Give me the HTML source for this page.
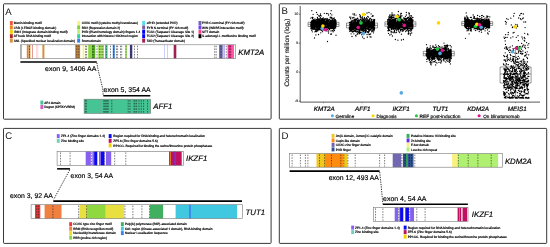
<!DOCTYPE html>
<html><head><meta charset="utf-8"><title>Figure</title>
<style>
html,body{margin:0;padding:0;background:#fff;}
body{width:550px;height:247px;overflow:hidden;}
svg{display:block;text-rendering:geometricPrecision;font-family:"Liberation Sans",Arial,Helvetica,sans-serif;}
.lg{font-size:3.2px;fill:#000;stroke:#000;stroke-width:0.17px;filter:url(#sf);}
.ex{font-size:6.8px;fill:#000;stroke:#000;stroke-width:0.15px;}
.gn{font-size:7.8px;font-style:italic;fill:#000;stroke:#000;stroke-width:0.16px;}
.pl{font-size:9.6px;fill:#111;}
.ax{font-size:6.3px;font-style:italic;fill:#000;stroke:#000;stroke-width:0.2px;}
.tk{font-size:3.7px;fill:#111;stroke:#111;stroke-width:0.1px;}
.lb{font-size:4.6px;fill:#000;stroke:#000;stroke-width:0.16px;}
.d{stroke:#111;stroke-width:0.55;stroke-dasharray:1.5 1.25;fill:none;}
.bar{fill:#fff;stroke:#777;stroke-width:0.6;}
.bl{stroke:#000;stroke-width:1.55;}
.cn{stroke:#000;stroke-width:0.8;stroke-dasharray:1.3 1.1;fill:none;}
.pn{fill:#fff;stroke:#383838;stroke-width:1;}
</style></head><body>
<svg width="550" height="247" viewBox="0 0 550 247">
<defs><filter id="sf" x="-5%" y="-50%" width="110%" height="200%"><feGaussianBlur stdDeviation="0.3"/></filter></defs>
<rect x="0" y="0" width="550" height="247" fill="#fff"/>

<rect class="pn" x="3.5" y="3.8" width="267.6" height="115.4" rx="0.7"/>
<text class="pl" x="5.2" y="14.6">A</text>
<rect x="9.9" y="21.0" width="2.9" height="4.0" fill="#f05a3c"/>
<text class="lg" x="13.8" y="24.1" textLength="27.9" lengthAdjust="spacingAndGlyphs">Menin-binding motif</text>
<rect x="9.9" y="25.4" width="2.9" height="4.0" fill="#f08020"/>
<text class="lg" x="13.8" y="28.5" textLength="42.4" lengthAdjust="spacingAndGlyphs">LBD (LEDGF-binding domain)</text>
<rect x="9.9" y="29.8" width="2.9" height="4.0" fill="#f5d000"/>
<text class="lg" x="13.8" y="33.0" textLength="53.8" lengthAdjust="spacingAndGlyphs">IBM1 (Integrase domain-binding motif)</text>
<rect x="9.9" y="34.2" width="2.9" height="4.0" fill="#b02a20"/>
<text class="lg" x="13.8" y="37.4" textLength="37.2" lengthAdjust="spacingAndGlyphs">AT hook DNA binding motif</text>
<rect x="9.9" y="38.6" width="2.9" height="4.0" fill="#d89040"/>
<text class="lg" x="13.8" y="41.8" textLength="61.2" lengthAdjust="spacingAndGlyphs">SNL (Speckled nuclear localization domain)</text>
<rect x="77.2" y="21.0" width="2.9" height="4.0" fill="#f8f080"/>
<text class="lg" x="81.7" y="24.1" textLength="56.3" lengthAdjust="spacingAndGlyphs">CXXC motif (cysteine methyl transferase)</text>
<rect x="77.2" y="25.4" width="2.9" height="4.0" fill="#80d030"/>
<text class="lg" x="81.7" y="28.5" textLength="38.3" lengthAdjust="spacingAndGlyphs">RD2 (Repression domain 2)</text>
<rect x="77.2" y="29.8" width="2.9" height="4.0" fill="#b8f070"/>
<text class="lg" x="81.7" y="33.0" textLength="58.7" lengthAdjust="spacingAndGlyphs">PHD (Plant homology domain) fingers 1-4</text>
<rect x="77.2" y="34.2" width="2.9" height="4.0" fill="#30d0a0"/>
<text class="lg" x="81.7" y="37.4" textLength="56.3" lengthAdjust="spacingAndGlyphs">Interaction with histone H3K4me3 region</text>
<rect x="77.2" y="38.6" width="2.9" height="4.0" fill="#3080f0"/>
<text class="lg" x="81.7" y="41.8" textLength="19.2" lengthAdjust="spacingAndGlyphs">Bromodomain</text>
<rect x="142.2" y="21.0" width="2.9" height="4.0" fill="#50e0f0"/>
<text class="lg" x="146.7" y="24.1" textLength="30.8" lengthAdjust="spacingAndGlyphs">ePHD (extended PHD)</text>
<rect x="142.2" y="25.4" width="2.9" height="4.0" fill="#7060a8"/>
<text class="lg" x="146.7" y="28.5" textLength="41.7" lengthAdjust="spacingAndGlyphs">FYR N-terminal (FY rich motif)</text>
<rect x="142.2" y="29.8" width="2.9" height="4.0" fill="#0000ff"/>
<text class="lg" x="146.7" y="33.0" textLength="47.3" lengthAdjust="spacingAndGlyphs">TCS1 (Taspase1 Cleavage Site 1)</text>
<rect x="142.2" y="34.2" width="2.9" height="4.0" fill="#0000ff"/>
<text class="lg" x="146.7" y="37.4" textLength="47.3" lengthAdjust="spacingAndGlyphs">TCS2 (Taspase1 Cleavage Site 2)</text>
<rect x="142.2" y="38.6" width="2.9" height="4.0" fill="#a02050"/>
<text class="lg" x="146.7" y="41.8" textLength="38.3" lengthAdjust="spacingAndGlyphs">TAD (Transactivator domain)</text>
<rect x="198.5" y="21.0" width="2.9" height="4.0" fill="#7068b0"/>
<text class="lg" x="202.1" y="24.1" textLength="42.4" lengthAdjust="spacingAndGlyphs">FYR C-terminal (FY rich motif)</text>
<rect x="198.5" y="25.4" width="2.9" height="4.0" fill="#7040ff"/>
<text class="lg" x="202.1" y="28.5" textLength="41.5" lengthAdjust="spacingAndGlyphs">WIN (WDR5 interaction motif)</text>
<rect x="198.5" y="29.8" width="2.9" height="4.0" fill="#ff4090"/>
<text class="lg" x="202.1" y="33.0" textLength="17.2" lengthAdjust="spacingAndGlyphs">SET domain</text>
<rect x="198.5" y="34.2" width="2.9" height="4.0" fill="#000"/>
<text class="lg" x="202.1" y="37.4" textLength="53.6" lengthAdjust="spacingAndGlyphs">S-adenosyl-L-methionine binding motif</text>
<rect x="20.4" y="44.8" width="215.3" height="13.7" fill="#fff"/>
<rect x="21.1" y="44.8" width="0.6" height="13.7" fill="#f05a3c"/>
<rect x="26.8" y="44.8" width="1.7" height="13.7" fill="#f08020"/>
<rect x="28.5" y="44.8" width="1.9" height="13.7" fill="#d89040"/>
<rect x="32.0" y="44.8" width="0.5" height="13.7" fill="#c0392b"/>
<rect x="36.3" y="44.8" width="0.4" height="13.7" fill="#f0a0a0"/>
<rect x="37.7" y="44.8" width="0.4" height="13.7" fill="#f0a0a0"/>
<rect x="42.4" y="44.8" width="2.0" height="13.7" fill="#d89040"/>
<rect x="75.2" y="44.8" width="4.9" height="13.7" fill="#c08840"/>
<rect x="82.6" y="44.8" width="1.7" height="13.7" fill="#f8f080"/>
<rect x="88.2" y="44.8" width="3.6" height="13.7" fill="#8cd840"/>
<rect x="91.8" y="44.8" width="3.5" height="13.7" fill="#60b830"/>
<rect x="97.9" y="44.8" width="6.1" height="13.7" fill="#b0ec70"/>
<rect x="105.0" y="44.8" width="2.6" height="13.7" fill="#50d0a0"/>
<rect x="112.8" y="44.8" width="1.9" height="13.7" fill="#3080f0"/>
<rect x="125.1" y="44.8" width="1.9" height="13.7" fill="#b0ec70"/>
<rect x="129.9" y="44.8" width="2.4" height="13.7" fill="#40408a"/>
<rect x="164.6" y="44.8" width="0.4" height="13.7" fill="#8a8aff"/>
<rect x="167.4" y="44.8" width="0.4" height="13.7" fill="#8a8aff"/>
<rect x="173.7" y="44.8" width="2.6" height="13.7" fill="#a02050"/>
<rect x="219.1" y="44.8" width="3.6" height="13.7" fill="#6a68a8"/>
<rect x="223.3" y="44.8" width="1.6" height="13.7" fill="#b8a8f0"/>
<rect x="227.6" y="44.8" width="3.4" height="13.7" fill="#f03890"/>
<rect x="231.0" y="44.8" width="3.0" height="13.7" fill="#ff58a8"/>
<path class="d" d="M29.4 45.7V57.9M76.8 45.7V57.9M78.8 45.7V57.9M85.6 45.7V57.9M86.6 45.7V57.9M92.6 45.7V57.9M93.8 45.7V57.9M97.0 45.7V57.9M99.5 45.7V57.9M101.0 45.7V57.9M102.8 45.7V57.9M106.3 45.7V57.9M110.5 45.7V57.9M113.8 45.7V57.9M116.5 45.7V57.9M117.6 45.7V57.9M120.5 45.7V57.9M121.7 45.7V57.9M126.0 45.7V57.9M131.0 45.7V57.9M134.5 45.7V57.9M137.5 45.7V57.9M214.7 45.7V57.9M216.2 45.7V57.9M221.0 45.7V57.9M226.3 45.7V57.9M229.3 45.7V57.9M230.8 45.7V57.9"/>
<rect x="20.4" y="44.8" width="215.3" height="13.7" fill="none" stroke="#777" stroke-width="0.6"/>
<text class="gn" x="238.2" y="54.5">KMT2A</text>
<line class="bl" x1="20.4" y1="62.0" x2="96.8" y2="62.0"/>
<text class="ex" x="45.0" y="71.2" textLength="51.4" lengthAdjust="spacingAndGlyphs">exon 9, 1406 AA</text>
<path class="cn" d="M96.9 62.8L97.9 69L102.7 88.5L103.2 95.2"/>
<text class="ex" x="103.6" y="92.4" textLength="47.1" lengthAdjust="spacingAndGlyphs">exon 5, 354 AA</text>
<line class="bl" x1="103.3" y1="95.8" x2="150.3" y2="95.8"/>
<rect x="84.1" y="99.2" width="66.5" height="14.2" fill="#45c494"/>
<rect x="99.8" y="99.2" width="0.5" height="14.2" fill="#a090b0"/>
<path class="d" d="M85.3 100.1V112.8M86.3 100.1V112.8M103.8 100.1V112.8M104.9 100.1V112.8M106.0 100.1V112.8M107.1 100.1V112.8M108.2 100.1V112.8M111.8 100.1V112.8M128.2 100.1V112.8M130.0 100.1V112.8M134.0 100.1V112.8M135.0 100.1V112.8M136.6 100.1V112.8M139.0 100.1V112.8M141.3 100.1V112.8M143.6 100.1V112.8M147.6 100.1V112.8"/>
<rect x="84.1" y="99.2" width="66.5" height="14.2" fill="none" stroke="#777" stroke-width="0.6"/>
<text class="gn" x="153.2" y="109.2">AFF1</text>
<rect x="40.4" y="100.6" width="2.9" height="4.0" fill="#45c494"/>
<text class="lg" x="44.3" y="103.8" textLength="16.2" lengthAdjust="spacingAndGlyphs">AF4 domain</text>
<rect x="40.4" y="105.0" width="2.9" height="4.0" fill="#d060c0"/>
<text class="lg" x="44.3" y="108.2" textLength="30.8" lengthAdjust="spacingAndGlyphs">Degron (KPTAYVRPM)</text>
<rect class="pn" x="279.3" y="3.8" width="267.40000000000003" height="115.4" rx="0.7"/>
<text class="pl" x="281.6" y="14.3">B</text>
<path d="M300.2 6V102.1H540" fill="none" stroke="#222" stroke-width="0.75"/>
<line x1="299" y1="14.2" x2="300.2" y2="14.2" stroke="#222" stroke-width="0.6"/>
<text class="tk" x="298.3" y="15.4" text-anchor="end">10</text>
<line x1="299" y1="43.2" x2="300.2" y2="43.2" stroke="#222" stroke-width="0.6"/>
<text class="tk" x="298.3" y="44.4" text-anchor="end">5</text>
<line x1="299" y1="72.2" x2="300.2" y2="72.2" stroke="#222" stroke-width="0.6"/>
<text class="tk" x="298.3" y="73.4" text-anchor="end">0</text>
<line x1="299" y1="101.2" x2="300.2" y2="101.2" stroke="#222" stroke-width="0.6"/>
<text class="tk" x="298.3" y="102.4" text-anchor="end">-5</text>
<text transform="translate(288.9,52.6) rotate(-90)" text-anchor="middle" style="font-size:6.4px;fill:#000;stroke:#000;stroke-width:0.12px">Counts per million (log<tspan style="font-size:4px" dy="1">2</tspan><tspan dy="-1">)</tspan></text>
<path d="M308.0 22.3H339.0V26.5H308.0ZM308.0 24.3H339.0M323.5 22.3V17.5M323.5 26.5V31" fill="none" stroke="#333" stroke-width="0.5"/>
<path d="M346.5 23H377.5V27.9H346.5ZM346.5 25.4H377.5M362.0 23V16.5M362.0 27.9V33.5" fill="none" stroke="#333" stroke-width="0.5"/>
<path d="M384.9 21.8H415.9V26.3H384.9ZM384.9 24H415.9M400.4 21.8V15.5M400.4 26.3V32.5" fill="none" stroke="#333" stroke-width="0.5"/>
<path d="M423.3 51.3H454.3V55.8H423.3ZM423.3 53.6H454.3M438.8 51.3V46M438.8 55.8V60.5" fill="none" stroke="#333" stroke-width="0.5"/>
<path d="M461.7 21.6H492.7V25.5H461.7ZM461.7 23.6H492.7M477.2 21.6V17M477.2 25.5V30" fill="none" stroke="#333" stroke-width="0.5"/>
<path d="M500.1 67H531.1V83H500.1ZM500.1 74H531.1M515.6 67V50M515.6 83V98" fill="none" stroke="#333" stroke-width="0.5"/>
<path d="M312.7 21.6h.01M330.6 20.6h.01M321.9 24.9h.01M329.2 23.5h.01M335.6 24.0h.01M324.5 24.3h.01M323.5 20.0h.01M312.6 26.6h.01M317.6 25.0h.01M323.5 24.1h.01M328.1 25.0h.01M331.2 27.0h.01M320.5 24.5h.01M312.5 21.8h.01M318.1 27.7h.01M333.9 23.0h.01M316.2 22.2h.01M322.3 19.8h.01M334.5 24.3h.01M311.4 21.3h.01M326.1 22.8h.01M334.9 25.6h.01M316.6 24.4h.01M324.7 27.2h.01M333.9 25.2h.01M314.2 23.1h.01M324.1 23.3h.01M329.9 22.8h.01M327.8 26.2h.01M322.7 24.4h.01M316.0 23.1h.01M323.3 26.8h.01M320.3 24.6h.01M322.9 22.9h.01M320.1 19.9h.01M332.1 25.6h.01M330.3 25.0h.01M318.8 24.4h.01M325.3 23.0h.01M317.8 21.9h.01M322.3 23.6h.01M319.8 25.0h.01M327.5 23.9h.01M320.2 23.9h.01M322.5 22.9h.01M329.1 25.3h.01M321.3 25.0h.01M333.8 22.1h.01M315.4 26.5h.01M329.6 26.6h.01M321.5 26.7h.01M321.6 23.9h.01M326.9 23.7h.01M324.1 20.9h.01M321.3 26.5h.01M310.8 18.1h.01M313.1 23.2h.01M328.8 23.3h.01M324.1 26.8h.01M328.5 24.3h.01M335.1 21.5h.01M328.1 20.2h.01M312.1 22.2h.01M318.6 24.6h.01M325.9 24.5h.01M316.8 23.7h.01M335.3 22.3h.01M334.8 23.7h.01M332.3 27.2h.01M322.8 21.1h.01M332.2 24.4h.01M314.1 29.0h.01M318.6 25.9h.01M322.6 23.0h.01M329.6 26.2h.01M323.1 22.1h.01M314.3 24.3h.01M319.5 28.8h.01M319.0 29.8h.01M318.4 19.3h.01M315.0 26.3h.01M321.3 30.0h.01M322.2 22.7h.01M330.5 25.1h.01M331.0 28.7h.01M324.1 22.9h.01M322.5 25.6h.01M330.6 24.1h.01M333.3 18.7h.01M327.9 25.3h.01M331.1 23.8h.01M334.7 27.0h.01M311.8 30.4h.01M333.0 26.3h.01M317.8 23.2h.01M322.9 25.6h.01M331.0 24.9h.01M329.0 27.3h.01M314.5 20.1h.01M327.5 20.9h.01M312.6 18.4h.01M319.9 26.1h.01M331.4 24.2h.01M321.7 22.4h.01M326.0 22.2h.01M329.3 22.6h.01M331.7 21.6h.01M330.1 23.4h.01M311.0 22.9h.01M321.5 28.3h.01M322.6 25.2h.01M312.2 21.9h.01M324.6 22.6h.01M326.2 27.8h.01M331.8 25.6h.01M334.7 25.2h.01M314.1 26.4h.01M316.7 28.9h.01M327.5 20.8h.01M314.2 22.1h.01M316.5 19.3h.01M325.4 25.7h.01M315.1 23.2h.01M330.7 22.4h.01M332.6 22.1h.01M311.7 26.3h.01M324.3 23.9h.01M331.0 22.8h.01M335.6 27.9h.01M317.8 21.3h.01M315.1 20.6h.01M333.1 31.8h.01M333.9 23.2h.01M315.8 22.7h.01M322.0 22.2h.01M329.1 23.9h.01M332.3 26.6h.01M315.1 26.5h.01M327.7 25.9h.01M331.3 23.5h.01M324.8 20.0h.01M315.0 25.1h.01M311.7 28.7h.01M318.0 27.4h.01M331.3 23.8h.01M311.9 26.6h.01M311.0 23.2h.01M320.0 24.1h.01M312.4 20.7h.01M314.6 23.4h.01M311.4 24.7h.01M324.1 23.8h.01M328.5 26.5h.01M321.6 29.8h.01M314.2 28.1h.01M319.2 23.4h.01M325.8 22.2h.01M334.7 22.4h.01M336.0 21.5h.01M316.9 24.4h.01M311.1 25.5h.01M331.9 24.8h.01M334.3 24.9h.01M322.4 24.8h.01M330.4 23.9h.01M332.8 22.1h.01M326.3 29.3h.01M333.0 27.3h.01M311.4 21.7h.01M317.7 21.7h.01M317.8 22.6h.01M313.9 24.4h.01M333.9 28.0h.01M311.6 27.2h.01M327.9 27.4h.01M312.6 27.5h.01M320.0 27.5h.01M321.4 26.4h.01M315.4 25.6h.01M324.0 24.0h.01M324.4 19.2h.01M318.9 23.9h.01M329.5 29.5h.01M314.9 22.7h.01M315.7 22.5h.01M319.8 27.3h.01M320.4 24.5h.01M316.0 22.9h.01M334.1 28.8h.01M331.8 26.1h.01M313.5 26.5h.01M320.2 22.7h.01M316.7 25.7h.01M322.3 25.4h.01M317.8 26.6h.01M323.5 27.6h.01M334.2 27.6h.01M320.5 24.8h.01M327.3 26.3h.01M325.9 21.0h.01M329.9 26.2h.01M312.4 26.3h.01M329.7 23.2h.01M334.8 22.1h.01M326.1 24.1h.01M318.1 20.8h.01M327.9 25.3h.01M328.9 25.2h.01M327.5 21.5h.01M314.5 24.4h.01M335.5 27.4h.01M335.1 27.4h.01M321.6 27.2h.01M325.9 23.9h.01M311.8 23.3h.01M335.9 23.2h.01M331.6 26.0h.01M327.0 31.1h.01M330.1 28.4h.01M315.6 28.9h.01M318.6 28.2h.01M317.1 19.6h.01M325.9 23.7h.01M313.1 23.0h.01M333.5 27.9h.01M322.5 29.2h.01M322.1 22.4h.01M313.5 24.4h.01M328.2 25.9h.01M331.5 22.9h.01M326.8 22.5h.01M316.9 22.3h.01M330.7 26.9h.01M314.5 21.7h.01M331.8 27.6h.01M325.5 24.6h.01M318.2 26.5h.01M323.8 28.8h.01M326.8 22.4h.01M317.4 21.9h.01M332.3 25.5h.01M321.5 21.3h.01M333.5 22.2h.01M332.0 24.0h.01M313.3 24.8h.01M327.2 20.7h.01M318.7 23.2h.01M330.0 26.0h.01M324.6 28.2h.01M322.4 18.6h.01M333.5 28.1h.01M312.3 26.9h.01M325.0 21.2h.01M319.1 20.0h.01M311.7 25.5h.01M329.9 23.1h.01M325.1 24.7h.01M333.5 26.8h.01M326.0 23.2h.01M319.4 24.8h.01M335.8 25.7h.01M313.7 26.9h.01M312.1 29.4h.01M329.4 29.2h.01M320.2 25.0h.01M320.0 23.6h.01M333.1 31.2h.01M319.1 26.1h.01M333.4 25.5h.01M327.2 21.1h.01M319.2 26.5h.01M312.3 22.1h.01M317.0 23.0h.01M335.4 20.4h.01M321.1 22.8h.01M314.9 24.5h.01M318.4 20.0h.01M333.6 21.7h.01M315.0 24.1h.01M330.6 20.7h.01M314.2 20.7h.01M335.2 21.9h.01M324.3 20.2h.01M311.9 26.1h.01M334.4 21.4h.01M319.9 26.5h.01M329.4 27.0h.01M324.1 20.8h.01M313.2 24.4h.01M313.5 22.9h.01M314.6 21.0h.01M314.9 23.3h.01M312.1 23.6h.01M312.0 26.4h.01M334.9 27.3h.01M313.1 21.1h.01M323.7 23.1h.01M313.8 25.8h.01M316.3 27.7h.01M330.2 17.2h.01M334.6 28.0h.01M322.7 23.8h.01M310.9 28.7h.01M336.2 23.1h.01M312.0 21.9h.01M320.7 24.4h.01M324.5 27.7h.01M333.5 24.4h.01M331.7 17.5h.01M326.3 26.3h.01M320.9 19.6h.01M332.0 21.5h.01M332.9 20.9h.01M332.9 19.0h.01M329.0 20.7h.01M313.3 21.4h.01M318.4 22.5h.01M323.1 24.1h.01M323.6 23.3h.01M332.0 20.0h.01M316.8 23.8h.01M327.7 27.1h.01M320.3 27.0h.01M330.5 24.7h.01M315.8 26.1h.01M322.9 26.9h.01M313.4 28.2h.01M316.2 29.2h.01M334.6 23.4h.01M318.8 23.5h.01M333.5 28.6h.01M324.1 28.8h.01M311.8 28.8h.01M330.9 17.5h.01M312.1 23.7h.01M331.8 14.9h.01M311.0 26.4h.01M327.9 24.5h.01M315.0 24.5h.01M319.5 23.9h.01M335.0 28.1h.01M323.2 23.4h.01M327.5 27.3h.01M329.6 25.9h.01M313.6 25.3h.01M332.1 25.6h.01M334.0 24.6h.01M314.7 21.1h.01M324.7 26.4h.01M318.0 26.4h.01M329.6 23.9h.01M311.5 26.4h.01M323.8 26.9h.01M330.9 20.6h.01M329.5 23.9h.01M313.5 23.0h.01M332.0 21.7h.01M316.8 25.2h.01M331.3 21.9h.01M323.4 23.0h.01M314.9 25.0h.01M329.4 25.3h.01M331.3 25.2h.01M328.6 30.8h.01M335.3 22.8h.01M317.3 25.0h.01M316.8 20.8h.01M314.5 25.7h.01M324.5 27.6h.01M320.9 27.8h.01M319.9 22.5h.01M322.5 23.5h.01M317.8 28.0h.01M310.9 24.0h.01M322.8 27.1h.01M317.8 21.5h.01M322.2 28.3h.01M334.4 27.3h.01M315.3 25.6h.01M327.0 22.0h.01M327.2 23.8h.01M317.9 24.7h.01M322.8 25.1h.01M335.4 24.0h.01M319.5 23.7h.01M328.9 24.9h.01M332.1 28.3h.01M320.0 18.5h.01M335.9 20.3h.01M326.7 19.8h.01M323.5 22.3h.01M329.0 19.3h.01M321.6 25.9h.01M328.9 24.6h.01M317.8 23.6h.01M334.4 22.3h.01M324.6 24.8h.01M316.9 24.8h.01M321.9 25.3h.01M333.5 22.2h.01M331.3 26.2h.01M323.1 20.0h.01M319.7 27.9h.01M320.4 15.4h.01M335.7 22.6h.01M313.7 20.8h.01M333.4 26.6h.01M332.6 20.0h.01M316.5 29.6h.01M319.7 19.8h.01M325.3 30.2h.01M331.2 25.6h.01M334.9 24.4h.01M336.0 25.6h.01M317.9 30.7h.01M315.7 26.9h.01M323.2 17.8h.01M325.0 27.8h.01M327.5 25.0h.01M313.5 19.6h.01M327.2 26.5h.01M334.2 20.8h.01M334.0 24.8h.01M334.8 25.0h.01M334.2 22.4h.01M335.2 26.2h.01M312.0 21.3h.01M334.1 24.9h.01M317.7 22.7h.01M318.9 23.8h.01M322.4 29.9h.01M335.1 24.6h.01M326.2 21.1h.01M319.8 24.0h.01M320.3 22.1h.01M333.8 24.4h.01M331.7 24.8h.01M314.3 24.5h.01M317.1 24.5h.01M320.2 22.7h.01M316.3 25.6h.01M325.1 27.4h.01M316.5 22.5h.01M325.4 24.1h.01M334.6 24.5h.01M332.4 27.9h.01M313.3 27.4h.01M316.1 22.2h.01M321.3 24.5h.01M327.2 20.0h.01M320.6 21.5h.01M317.2 24.3h.01M319.6 26.1h.01M316.0 27.1h.01M332.7 23.4h.01M328.5 20.4h.01M321.2 25.5h.01M328.6 23.8h.01M324.0 25.5h.01M324.2 24.8h.01M320.1 26.4h.01M323.2 26.2h.01M335.8 26.7h.01M330.7 23.0h.01M331.8 27.2h.01M314.0 22.8h.01M323.6 24.5h.01M320.1 29.7h.01M313.1 25.3h.01M320.8 20.9h.01M312.7 28.6h.01M316.7 27.2h.01M331.1 27.6h.01M328.2 24.9h.01M328.5 25.3h.01M312.8 23.6h.01M315.0 22.3h.01M311.3 28.7h.01M313.3 23.2h.01M313.4 22.9h.01M335.2 23.0h.01M333.5 29.7h.01M316.0 26.8h.01M317.2 23.2h.01M335.2 24.2h.01M325.3 25.8h.01M320.2 26.8h.01M322.7 19.6h.01M317.7 26.9h.01M325.6 23.7h.01M329.2 22.3h.01M323.9 23.2h.01M331.6 26.6h.01M313.7 29.4h.01M326.1 24.7h.01M335.9 25.9h.01M314.6 21.9h.01M323.4 25.7h.01M326.8 26.7h.01M319.4 20.0h.01M335.3 22.8h.01M323.1 26.6h.01M323.0 19.2h.01M333.7 23.2h.01M311.2 26.0h.01M332.9 19.4h.01M314.1 23.1h.01M320.4 24.5h.01M323.2 26.9h.01M322.9 20.6h.01M311.8 27.5h.01M318.9 25.2h.01M319.9 27.8h.01M335.1 27.7h.01M334.1 25.3h.01M325.6 25.7h.01M334.5 19.3h.01M332.7 20.4h.01M320.3 21.4h.01M313.8 23.3h.01M326.2 27.0h.01M319.0 19.1h.01M311.0 23.4h.01M335.7 20.5h.01M335.4 19.8h.01M324.4 28.6h.01M326.5 24.6h.01M327.8 29.0h.01M334.3 27.7h.01M322.7 21.6h.01M325.6 18.9h.01M316.6 30.3h.01M317.0 23.1h.01M324.1 21.0h.01M316.6 26.3h.01M311.6 24.7h.01M320.2 22.4h.01M329.8 23.3h.01M317.8 24.8h.01M332.7 24.5h.01M328.6 26.5h.01M327.4 23.3h.01M333.5 23.3h.01M312.7 26.0h.01M315.3 25.2h.01M333.9 27.5h.01M333.8 23.6h.01M312.8 24.0h.01M330.5 20.9h.01M311.2 28.6h.01M314.2 20.3h.01M313.6 24.9h.01M318.3 21.7h.01M320.7 25.3h.01M333.9 26.5h.01M321.9 19.5h.01M313.9 23.7h.01M317.7 19.2h.01M311.0 28.4h.01M311.5 23.0h.01M321.7 19.7h.01M323.8 22.3h.01M317.1 28.1h.01M320.4 28.6h.01M313.4 28.0h.01M327.5 22.0h.01M320.8 23.9h.01M314.9 29.0h.01M323.4 22.2h.01M316.1 23.3h.01M318.2 21.5h.01M314.0 20.9h.01M330.6 27.8h.01M317.9 26.1h.01M335.1 25.6h.01M321.1 26.0h.01M314.7 27.3h.01M328.7 28.7h.01M329.4 24.3h.01M333.2 23.3h.01M314.1 21.3h.01M330.9 27.4h.01M332.6 22.8h.01M318.5 20.0h.01M322.3 23.5h.01M326.5 24.4h.01M317.0 26.7h.01M332.9 27.2h.01M328.6 22.2h.01M332.6 22.0h.01M322.2 23.3h.01M324.0 20.8h.01M315.7 24.0h.01M318.8 25.6h.01M329.3 24.4h.01M335.2 19.6h.01M314.7 20.8h.01M312.1 28.0h.01M312.5 21.4h.01M321.9 26.4h.01M330.9 26.1h.01M316.5 23.4h.01M322.9 21.4h.01M323.9 24.9h.01M332.1 21.7h.01M315.0 23.8h.01M311.2 24.6h.01M323.7 22.2h.01M319.8 23.6h.01M318.2 23.4h.01M330.4 20.7h.01M328.2 23.7h.01M312.9 22.5h.01M324.7 19.0h.01M331.1 23.3h.01M333.9 23.5h.01M310.8 22.5h.01M331.3 18.3h.01M311.9 26.6h.01M328.1 26.3h.01M326.0 26.2h.01M335.0 25.2h.01M326.8 20.7h.01M312.6 24.7h.01M327.8 21.6h.01M317.3 30.6h.01M331.9 22.8h.01M311.6 26.2h.01M319.0 19.8h.01M328.0 20.9h.01M314.8 22.7h.01M327.2 26.3h.01M328.5 25.9h.01M329.4 25.1h.01M333.0 18.9h.01M321.3 27.6h.01M314.4 21.6h.01M317.4 29.0h.01M320.7 29.7h.01M312.2 26.7h.01M328.8 27.2h.01M312.4 20.6h.01M312.3 31.8h.01M334.5 24.9h.01M331.3 27.2h.01M317.2 21.8h.01M319.5 24.1h.01M331.8 20.9h.01M326.5 23.6h.01M317.5 24.3h.01M322.2 25.0h.01M332.5 28.3h.01M310.8 25.7h.01M336.0 25.0h.01M325.2 24.4h.01M315.4 30.1h.01M331.1 22.6h.01M312.7 27.7h.01M321.2 18.6h.01M325.4 21.8h.01M317.1 25.5h.01M333.3 23.8h.01M328.5 33.0h.01M314.9 31.8h.01M314.7 19.9h.01M312.4 21.2h.01M325.3 23.9h.01M315.6 29.3h.01M324.6 27.6h.01M331.6 25.2h.01M333.1 20.2h.01M313.8 21.9h.01M319.2 16.5h.01M321.4 19.8h.01M320.5 25.5h.01M321.4 26.6h.01M322.5 20.5h.01M330.0 24.6h.01M318.6 29.0h.01M319.5 24.8h.01M320.7 23.4h.01M314.6 26.1h.01M326.8 25.8h.01M321.0 24.5h.01M334.1 22.8h.01M331.7 23.1h.01M316.6 24.6h.01M317.0 22.7h.01M330.7 28.2h.01M325.0 26.9h.01M311.1 27.5h.01M326.8 30.2h.01M320.8 28.9h.01M330.7 28.4h.01M329.8 25.4h.01M334.2 23.8h.01M328.6 31.0h.01M334.0 22.4h.01M318.0 22.5h.01M319.4 21.8h.01M312.3 24.9h.01M332.8 25.5h.01M314.7 27.3h.01M324.8 23.7h.01M323.7 19.3h.01M331.5 25.2h.01M320.7 27.1h.01M314.4 24.4h.01M320.5 23.9h.01M312.0 25.9h.01M318.5 28.5h.01M326.8 24.1h.01M312.3 20.2h.01M335.9 22.7h.01M324.4 23.8h.01M318.4 19.1h.01M332.0 26.5h.01M314.3 22.1h.01M319.0 25.8h.01M334.6 24.9h.01M316.9 23.4h.01M329.4 29.0h.01M312.9 22.7h.01M324.3 22.4h.01M327.5 25.2h.01M316.1 26.7h.01M319.1 24.3h.01M324.8 21.5h.01M325.8 26.3h.01M314.7 26.1h.01M321.2 30.3h.01M336.2 23.7h.01M319.0 24.9h.01M330.7 22.7h.01M315.9 20.0h.01M322.5 24.5h.01M324.0 26.8h.01M325.9 21.4h.01M329.0 22.3h.01M331.0 20.9h.01M328.6 28.2h.01M331.3 22.5h.01M333.3 26.0h.01M319.1 21.8h.01M331.8 24.5h.01M324.0 22.5h.01M317.4 17.5h.01M315.2 24.5h.01M330.2 25.8h.01M327.0 18.3h.01M312.6 23.8h.01M325.7 23.0h.01M311.9 21.2h.01M320.7 23.6h.01M325.3 18.7h.01M327.3 25.0h.01M314.8 27.7h.01M311.9 20.6h.01M325.4 24.1h.01M331.6 28.4h.01M331.0 24.7h.01M319.9 22.8h.01M325.5 21.7h.01M329.1 24.8h.01M333.0 23.9h.01M323.3 26.1h.01M333.0 19.9h.01M318.9 27.4h.01M316.4 23.1h.01M318.3 26.2h.01M329.3 22.2h.01M333.3 20.5h.01M322.8 22.7h.01M328.5 21.5h.01M314.3 23.2h.01M323.7 26.2h.01M321.8 27.4h.01M321.8 24.9h.01M315.6 22.7h.01M326.6 23.0h.01M327.9 26.0h.01M327.0 27.6h.01M329.7 23.4h.01M322.4 23.9h.01M332.5 22.1h.01M325.3 24.9h.01M333.2 27.1h.01M321.2 15.9h.01M328.6 25.0h.01M315.8 22.7h.01M312.9 17.5h.01M334.5 25.2h.01M320.2 24.0h.01M312.0 25.4h.01M326.5 20.3h.01M334.5 30.5h.01M330.3 24.6h.01M335.9 23.3h.01M334.6 28.7h.01M322.4 26.2h.01M316.7 26.7h.01M312.5 27.7h.01M317.7 18.3h.01M326.9 29.1h.01M333.9 23.3h.01M310.8 25.1h.01M331.6 27.0h.01M330.2 22.2h.01M328.4 25.2h.01M314.0 26.5h.01M312.2 24.2h.01M329.5 25.7h.01M327.1 19.6h.01M320.2 20.8h.01M319.6 21.0h.01M311.6 25.4h.01M336.0 35.2h.01M332.1 25.1h.01M335.5 23.9h.01M331.6 24.1h.01M322.5 27.2h.01M332.3 26.4h.01M315.8 21.0h.01M327.9 27.2h.01M316.8 24.2h.01M320.8 26.7h.01M332.9 18.5h.01M321.6 19.8h.01M333.5 26.0h.01M326.0 19.1h.01M318.3 25.4h.01M317.4 25.3h.01M310.9 24.7h.01M325.3 25.3h.01M332.1 25.1h.01M316.5 25.6h.01M323.0 23.1h.01M335.8 24.2h.01M320.8 32.8h.01M334.6 27.6h.01M331.8 26.1h.01M323.4 25.4h.01M326.9 22.2h.01M312.5 25.0h.01M323.9 23.6h.01M330.1 27.0h.01M316.7 21.6h.01M312.1 17.4h.01M311.5 22.7h.01M314.9 26.3h.01M316.8 31.4h.01M331.3 27.3h.01M322.5 21.5h.01M324.4 23.7h.01M318.8 21.5h.01M318.4 23.8h.01M324.9 21.7h.01M329.7 19.5h.01M315.4 25.6h.01M321.8 24.9h.01M327.2 23.8h.01M335.2 25.3h.01M317.6 30.2h.01M320.8 24.6h.01M325.3 23.2h.01M314.4 26.8h.01M326.3 19.5h.01M335.6 26.5h.01M317.7 22.1h.01M323.0 21.9h.01M313.8 24.6h.01M324.0 29.1h.01M335.5 22.1h.01M324.6 27.1h.01M316.2 25.4h.01M318.7 20.3h.01M326.7 27.0h.01M332.6 21.9h.01M322.3 20.0h.01M323.2 22.0h.01M331.4 22.2h.01M313.5 26.0h.01M335.0 20.7h.01M322.6 31.7h.01M319.2 25.4h.01M330.6 20.8h.01M317.3 20.2h.01M314.5 25.4h.01M317.4 14.3h.01M327.9 13.6h.01M313.4 19.9h.01M322.3 27.4h.01M316.8 25.2h.01M324.7 24.4h.01M314.3 23.2h.01M330.5 13.6h.01M334.3 22.7h.01M318.9 15.5h.01M319.8 28.4h.01M326.0 24.3h.01M329.6 23.9h.01M312.3 26.3h.01M327.9 25.9h.01M331.5 25.4h.01M330.9 26.0h.01M321.9 21.4h.01M331.7 17.7h.01M324.7 26.0h.01M315.5 31.4h.01M318.1 29.3h.01M325.9 23.2h.01M324.8 27.3h.01M331.2 22.1h.01M329.0 26.2h.01M316.2 21.3h.01M320.9 25.0h.01M330.6 34.2h.01M322.4 28.1h.01M316.5 31.7h.01M334.6 20.5h.01M322.2 20.9h.01M318.6 24.1h.01M323.8 27.0h.01M318.4 23.3h.01M317.7 29.3h.01M327.6 21.6h.01M331.0 31.0h.01M321.2 29.1h.01M314.9 18.8h.01M322.9 27.2h.01M321.0 23.2h.01M321.9 29.3h.01M316.9 21.6h.01M330.3 25.8h.01M315.9 27.0h.01M311.8 10.7h.01M328.6 15.0h.01M329.7 24.9h.01M316.9 23.7h.01M315.2 29.3h.01M325.5 25.4h.01M334.2 18.0h.01M317.3 25.9h.01M324.5 20.6h.01M317.5 23.2h.01M329.6 21.8h.01M322.7 26.0h.01M320.4 17.3h.01M327.5 18.8h.01M324.3 13.3h.01M315.9 34.9h.01M321.4 19.4h.01M335.1 20.0h.01M331.1 18.6h.01M323.8 21.1h.01M327.6 22.1h.01M314.4 27.3h.01M321.3 25.2h.01M333.5 25.9h.01M315.6 21.4h.01M335.7 23.9h.01M332.3 30.3h.01M328.2 24.2h.01M320.3 25.8h.01M313.1 14.3h.01M318.3 26.8h.01M329.6 25.6h.01M321.5 30.6h.01M331.2 10.7h.01M316.3 24.4h.01M331.7 23.7h.01M332.6 24.7h.01M329.1 21.1h.01M316.0 25.3h.01M316.5 27.7h.01M312.4 24.4h.01M312.1 22.8h.01M329.6 23.2h.01M323.3 22.3h.01M330.1 24.4h.01M314.5 38.0h.01M327.5 41.5h.01M316.5 12.5h.01M326.5 13.5h.01M320.5 14.0h.01M331.5 34.0h.01M318.5 34.5h.01M358.2 30.1h.01M360.6 26.5h.01M351.3 29.9h.01M371.8 23.1h.01M359.1 21.7h.01M364.2 21.2h.01M352.2 28.6h.01M373.9 19.3h.01M353.9 20.0h.01M361.1 21.2h.01M351.5 26.8h.01M353.3 27.5h.01M352.7 23.2h.01M359.1 28.7h.01M351.5 27.1h.01M361.2 30.1h.01M363.7 29.2h.01M354.1 23.7h.01M368.8 26.7h.01M351.2 25.5h.01M363.9 27.6h.01M369.9 26.7h.01M364.9 26.1h.01M349.4 28.5h.01M351.2 26.3h.01M350.5 28.5h.01M352.6 26.2h.01M362.7 25.5h.01M373.7 29.2h.01M358.7 29.3h.01M369.3 30.3h.01M356.2 28.2h.01M374.0 25.3h.01M359.0 26.7h.01M354.3 26.6h.01M354.2 20.1h.01M352.2 22.2h.01M351.4 31.2h.01M372.8 25.9h.01M367.7 16.4h.01M353.0 25.7h.01M364.6 26.6h.01M361.1 21.9h.01M351.1 33.8h.01M374.4 29.9h.01M355.3 28.8h.01M363.9 25.4h.01M358.5 27.7h.01M361.7 28.9h.01M374.5 27.7h.01M368.7 23.8h.01M355.4 26.7h.01M367.2 26.5h.01M361.1 27.0h.01M355.4 22.5h.01M363.5 26.9h.01M355.2 26.0h.01M369.9 26.8h.01M356.8 26.7h.01M351.8 21.1h.01M371.2 28.9h.01M353.6 28.5h.01M367.3 21.5h.01M371.4 25.7h.01M367.8 23.1h.01M373.4 24.5h.01M356.2 29.4h.01M358.8 27.8h.01M365.4 32.7h.01M352.3 26.3h.01M374.4 22.2h.01M366.1 26.3h.01M366.6 17.7h.01M364.1 32.0h.01M362.1 26.8h.01M354.2 27.4h.01M352.0 26.4h.01M355.8 23.0h.01M350.0 25.5h.01M365.1 23.2h.01M353.9 24.1h.01M372.7 27.0h.01M352.1 21.8h.01M357.4 31.4h.01M371.1 22.2h.01M365.1 28.6h.01M359.8 23.6h.01M367.9 21.6h.01M359.5 27.1h.01M353.3 26.3h.01M374.2 25.0h.01M371.5 25.5h.01M368.0 23.6h.01M356.4 27.1h.01M362.2 24.0h.01M351.5 25.7h.01M350.3 29.4h.01M373.3 21.2h.01M359.9 23.7h.01M354.8 23.3h.01M369.3 22.9h.01M362.7 21.0h.01M366.1 24.7h.01M352.0 26.1h.01M360.6 25.2h.01M359.7 20.2h.01M356.8 27.9h.01M353.8 27.9h.01M371.5 25.8h.01M368.2 22.2h.01M363.6 22.7h.01M356.2 32.1h.01M365.4 31.4h.01M359.7 27.1h.01M349.4 22.4h.01M365.1 29.8h.01M366.2 26.1h.01M373.7 31.2h.01M370.3 23.6h.01M351.3 27.1h.01M357.3 24.8h.01M350.4 28.1h.01M351.0 23.4h.01M361.1 28.6h.01M354.6 24.2h.01M350.8 22.5h.01M365.2 27.4h.01M372.7 26.3h.01M370.3 18.4h.01M350.7 25.4h.01M356.9 25.9h.01M350.3 26.1h.01M360.0 32.4h.01M373.1 23.3h.01M354.2 25.5h.01M367.9 19.8h.01M361.9 20.6h.01M362.5 23.6h.01M370.5 25.1h.01M357.2 24.8h.01M357.6 27.7h.01M368.0 28.0h.01M352.9 28.9h.01M352.0 24.9h.01M359.7 27.2h.01M359.3 23.1h.01M357.0 26.7h.01M355.7 27.1h.01M371.7 23.8h.01M359.7 14.6h.01M357.1 23.3h.01M369.3 34.2h.01M370.8 25.2h.01M367.1 23.3h.01M373.8 25.9h.01M352.4 29.3h.01M360.7 26.6h.01M369.9 24.8h.01M374.0 21.1h.01M354.3 24.5h.01M368.2 21.4h.01M354.7 26.7h.01M359.4 30.6h.01M368.4 29.1h.01M368.9 23.5h.01M350.8 22.1h.01M355.8 20.8h.01M373.8 27.0h.01M363.7 27.4h.01M364.0 28.2h.01M355.8 26.6h.01M360.7 21.4h.01M356.2 19.0h.01M352.8 29.3h.01M356.5 22.6h.01M363.5 31.9h.01M362.6 18.3h.01M362.6 21.7h.01M358.0 22.3h.01M360.4 26.4h.01M371.5 27.7h.01M372.7 23.6h.01M372.1 27.5h.01M355.3 21.0h.01M365.4 23.7h.01M368.8 21.3h.01M357.6 23.6h.01M361.4 23.3h.01M371.0 26.5h.01M367.2 37.1h.01M367.7 20.8h.01M351.3 24.7h.01M350.6 27.8h.01M366.8 25.7h.01M363.8 30.2h.01M353.6 22.0h.01M349.4 28.1h.01M355.3 22.8h.01M365.1 28.2h.01M358.5 26.0h.01M365.8 26.3h.01M353.2 23.4h.01M365.8 19.1h.01M352.1 21.7h.01M372.1 27.8h.01M355.8 24.5h.01M349.4 27.9h.01M369.6 20.9h.01M357.4 27.6h.01M359.7 28.8h.01M353.0 17.9h.01M354.5 26.5h.01M359.4 32.0h.01M356.7 22.9h.01M362.1 28.8h.01M356.1 25.6h.01M360.4 28.3h.01M350.0 24.1h.01M362.1 22.8h.01M364.6 24.0h.01M372.1 24.2h.01M367.5 23.4h.01M351.3 22.5h.01M358.6 29.2h.01M368.6 23.5h.01M367.5 21.4h.01M350.7 22.3h.01M350.0 27.1h.01M361.9 17.9h.01M360.7 27.1h.01M352.8 27.9h.01M356.0 29.8h.01M358.2 24.0h.01M369.3 22.7h.01M355.9 26.1h.01M369.8 25.9h.01M370.6 29.9h.01M355.6 25.6h.01M371.0 24.0h.01M351.4 20.9h.01M359.0 24.8h.01M351.8 25.7h.01M357.5 29.5h.01M356.5 25.8h.01M368.6 30.1h.01M370.4 29.7h.01M357.8 22.9h.01M357.9 21.6h.01M373.8 23.3h.01M353.4 24.7h.01M361.3 22.7h.01M364.3 27.9h.01M366.0 27.8h.01M353.2 29.6h.01M357.4 26.4h.01M353.1 24.0h.01M368.5 26.9h.01M367.8 22.4h.01M370.2 26.0h.01M360.2 22.9h.01M349.8 29.4h.01M372.1 16.4h.01M352.0 28.4h.01M355.0 28.5h.01M350.1 25.4h.01M359.3 26.6h.01M366.9 26.2h.01M372.9 29.9h.01M363.2 31.1h.01M351.5 25.5h.01M371.8 31.1h.01M351.8 23.3h.01M354.5 26.9h.01M354.9 27.0h.01M371.8 21.2h.01M359.7 26.6h.01M370.7 23.2h.01M363.4 28.2h.01M361.4 22.5h.01M369.3 19.5h.01M354.7 21.1h.01M356.2 25.6h.01M372.4 26.6h.01M364.6 26.7h.01M359.0 22.9h.01M365.3 28.2h.01M368.3 23.6h.01M367.4 24.7h.01M362.1 28.8h.01M365.2 25.0h.01M355.3 19.1h.01M361.5 27.9h.01M371.7 25.5h.01M372.5 24.2h.01M349.9 29.9h.01M355.8 23.4h.01M355.9 27.7h.01M357.6 26.0h.01M357.0 34.3h.01M356.4 19.4h.01M361.3 26.2h.01M355.4 26.7h.01M367.8 29.2h.01M350.0 24.1h.01M373.8 23.3h.01M354.1 30.2h.01M372.0 24.0h.01M366.6 26.4h.01M371.8 25.3h.01M360.3 26.8h.01M357.5 20.9h.01M364.8 23.6h.01M354.3 25.3h.01M360.0 25.9h.01M363.1 29.2h.01M352.4 27.2h.01M369.7 27.4h.01M360.9 25.3h.01M362.8 29.8h.01M366.5 23.4h.01M372.1 25.2h.01M352.8 20.4h.01M354.2 21.9h.01M352.4 28.4h.01M373.8 25.3h.01M360.3 19.2h.01M367.5 25.3h.01M353.5 24.7h.01M372.9 21.6h.01M352.5 26.6h.01M366.5 24.6h.01M350.0 25.5h.01M371.3 28.7h.01M359.2 23.4h.01M365.3 29.1h.01M364.5 24.6h.01M354.4 24.6h.01M360.8 29.9h.01M349.4 26.8h.01M369.2 24.1h.01M360.9 25.1h.01M356.4 26.2h.01M359.3 20.5h.01M359.7 27.7h.01M353.4 25.5h.01M358.6 21.1h.01M366.5 22.3h.01M363.5 28.4h.01M374.5 21.2h.01M368.3 32.8h.01M370.3 21.8h.01M353.0 26.2h.01M362.5 16.8h.01M355.5 25.2h.01M355.4 23.7h.01M357.7 27.1h.01M363.8 26.1h.01M359.8 24.3h.01M359.4 32.7h.01M358.6 28.0h.01M374.4 22.9h.01M360.0 26.6h.01M372.6 15.6h.01M374.5 23.4h.01M365.1 29.6h.01M374.1 23.5h.01M374.7 25.9h.01M370.0 21.5h.01M367.5 28.0h.01M354.9 25.8h.01M354.0 25.4h.01M350.6 28.5h.01M354.8 30.9h.01M362.7 28.1h.01M360.4 19.5h.01M368.5 26.7h.01M356.9 26.2h.01M365.1 21.5h.01M358.5 19.9h.01M354.9 23.9h.01M369.0 24.3h.01M356.7 25.1h.01M362.5 22.8h.01M355.7 25.8h.01M365.8 26.3h.01M353.7 24.3h.01M350.9 26.6h.01M365.2 23.3h.01M361.9 20.0h.01M365.8 25.3h.01M351.3 28.3h.01M369.0 34.5h.01M350.5 18.1h.01M373.6 23.6h.01M373.2 22.3h.01M369.6 26.2h.01M357.2 22.3h.01M365.7 25.7h.01M374.5 28.7h.01M367.5 22.8h.01M366.1 25.1h.01M350.1 30.8h.01M350.2 28.3h.01M365.3 19.8h.01M361.1 32.4h.01M361.8 23.0h.01M354.2 26.3h.01M357.0 23.9h.01M371.9 23.8h.01M358.6 23.0h.01M374.0 27.4h.01M353.5 22.7h.01M362.8 21.0h.01M365.5 23.4h.01M366.7 25.3h.01M369.8 18.5h.01M368.5 28.0h.01M370.1 22.9h.01M350.8 27.8h.01M351.4 30.0h.01M352.7 26.4h.01M354.3 27.2h.01M367.5 23.8h.01M363.0 23.1h.01M367.3 18.9h.01M364.5 24.7h.01M363.5 23.5h.01M354.0 17.3h.01M371.1 26.3h.01M368.9 30.5h.01M368.5 26.7h.01M373.0 29.3h.01M359.3 24.4h.01M360.0 21.9h.01M361.3 25.6h.01M358.2 24.2h.01M362.3 21.5h.01M365.2 28.9h.01M364.2 25.9h.01M353.8 23.1h.01M367.7 26.0h.01M351.1 24.9h.01M354.6 27.5h.01M359.4 30.8h.01M370.3 23.3h.01M355.7 21.3h.01M370.3 30.0h.01M364.0 33.5h.01M367.1 23.3h.01M356.8 22.3h.01M374.0 21.3h.01M365.8 25.3h.01M351.3 25.7h.01M369.8 24.5h.01M361.2 28.2h.01M370.5 22.6h.01M367.1 23.4h.01M373.8 21.1h.01M372.4 30.1h.01M366.2 29.0h.01M368.7 29.8h.01M350.8 22.5h.01M369.5 29.9h.01M368.0 26.4h.01M373.3 27.8h.01M368.5 27.4h.01M365.0 24.3h.01M369.1 24.8h.01M364.6 20.2h.01M361.6 23.5h.01M374.2 24.6h.01M361.9 21.5h.01M351.9 25.7h.01M350.5 29.8h.01M358.7 23.7h.01M360.9 22.1h.01M363.4 22.5h.01M351.1 26.1h.01M363.3 31.3h.01M373.6 26.0h.01M368.4 25.6h.01M367.2 21.2h.01M362.4 26.6h.01M371.8 27.6h.01M351.6 24.1h.01M369.0 25.3h.01M367.4 23.2h.01M358.9 27.9h.01M361.8 30.0h.01M353.2 26.7h.01M349.5 27.2h.01M357.8 25.6h.01M357.9 23.3h.01M362.5 22.8h.01M358.1 24.1h.01M371.9 25.8h.01M353.0 25.4h.01M370.2 28.9h.01M363.1 27.9h.01M354.9 30.5h.01M371.6 28.1h.01M363.3 24.6h.01M351.8 25.8h.01M371.3 19.9h.01M356.2 31.1h.01M363.8 23.5h.01M366.5 24.1h.01M368.2 31.6h.01M367.5 21.8h.01M370.4 23.4h.01M368.9 25.2h.01M354.1 23.5h.01M363.5 25.8h.01M361.8 26.3h.01M352.7 27.6h.01M360.3 25.1h.01M369.0 27.8h.01M360.6 24.3h.01M359.3 27.5h.01M361.4 29.4h.01M363.6 19.6h.01M368.7 24.7h.01M371.0 26.1h.01M356.6 19.1h.01M356.0 15.1h.01M357.3 26.5h.01M371.3 23.3h.01M372.2 28.1h.01M358.0 25.4h.01M370.5 25.4h.01M363.1 24.3h.01M373.6 25.8h.01M363.8 22.4h.01M372.3 23.7h.01M363.4 28.1h.01M358.2 24.6h.01M370.9 27.2h.01M357.9 25.4h.01M369.3 24.3h.01M362.8 22.2h.01M357.5 28.3h.01M361.4 22.7h.01M372.3 26.7h.01M356.9 20.2h.01M351.5 26.4h.01M372.3 26.8h.01M352.3 23.3h.01M355.2 20.0h.01M361.5 24.9h.01M369.1 25.8h.01M374.1 23.7h.01M354.0 23.2h.01M355.2 28.5h.01M374.6 25.1h.01M363.6 24.1h.01M371.2 28.3h.01M358.6 25.4h.01M356.7 23.1h.01M371.5 28.4h.01M354.5 24.2h.01M356.0 28.6h.01M358.7 23.2h.01M357.8 26.6h.01M353.5 29.6h.01M356.7 27.0h.01M353.7 27.2h.01M362.8 27.0h.01M366.9 28.4h.01M362.4 25.7h.01M351.1 27.0h.01M364.3 24.7h.01M367.4 32.0h.01M353.8 22.5h.01M361.6 28.2h.01M374.0 22.2h.01M370.3 27.3h.01M360.9 29.9h.01M355.9 21.8h.01M353.4 31.4h.01M350.5 22.2h.01M355.3 22.7h.01M361.7 26.6h.01M362.0 21.8h.01M353.7 28.8h.01M360.8 27.1h.01M360.5 16.3h.01M369.9 20.7h.01M372.7 23.0h.01M373.6 26.9h.01M361.7 21.9h.01M370.9 23.0h.01M365.1 27.5h.01M351.9 22.1h.01M351.2 26.4h.01M364.7 20.9h.01M366.6 28.8h.01M365.9 30.2h.01M361.6 21.6h.01M364.4 17.5h.01M366.1 19.8h.01M367.2 28.7h.01M353.0 23.5h.01M361.4 29.0h.01M357.7 20.9h.01M361.6 22.3h.01M359.3 25.0h.01M351.2 29.0h.01M369.4 24.7h.01M362.6 22.0h.01M371.5 26.4h.01M350.4 25.7h.01M351.7 27.1h.01M352.5 24.8h.01M371.4 23.3h.01M362.2 25.5h.01M368.4 17.1h.01M351.3 26.3h.01M368.3 29.5h.01M351.3 27.3h.01M372.4 22.2h.01M362.3 20.3h.01M373.7 29.8h.01M365.4 23.7h.01M364.6 24.7h.01M353.5 26.2h.01M365.4 23.4h.01M368.4 25.5h.01M364.8 30.4h.01M366.8 23.7h.01M371.8 31.8h.01M367.0 26.7h.01M365.6 26.5h.01M362.7 28.6h.01M360.9 28.5h.01M367.4 28.9h.01M370.3 27.3h.01M367.8 23.5h.01M351.8 30.9h.01M355.8 24.9h.01M364.9 22.6h.01M363.7 28.4h.01M372.6 27.6h.01M374.3 25.3h.01M372.1 25.7h.01M364.7 27.4h.01M367.6 31.9h.01M370.9 25.2h.01M353.0 21.2h.01M357.2 23.5h.01M349.9 27.1h.01M365.1 24.7h.01M372.7 23.2h.01M349.4 27.9h.01M352.5 27.9h.01M354.4 24.7h.01M369.1 26.4h.01M358.7 23.3h.01M354.3 23.4h.01M358.8 24.3h.01M355.8 20.8h.01M355.7 26.5h.01M363.7 25.1h.01M366.3 23.7h.01M355.6 25.7h.01M363.3 25.8h.01M350.1 22.9h.01M374.0 23.4h.01M351.9 22.7h.01M363.5 29.9h.01M374.6 19.7h.01M357.5 25.1h.01M356.6 28.1h.01M368.1 21.7h.01M361.1 22.1h.01M356.1 22.0h.01M363.9 19.2h.01M370.3 29.2h.01M366.3 24.4h.01M355.4 21.4h.01M366.3 23.0h.01M372.9 25.7h.01M354.3 24.0h.01M365.9 22.1h.01M362.0 26.7h.01M366.1 22.1h.01M352.8 23.7h.01M355.2 25.6h.01M358.1 22.6h.01M370.6 25.3h.01M359.1 22.8h.01M357.9 33.9h.01M368.1 23.6h.01M352.8 27.3h.01M357.4 22.1h.01M363.3 21.2h.01M358.1 24.5h.01M364.5 23.8h.01M364.6 23.8h.01M352.9 24.8h.01M352.7 27.9h.01M369.2 31.3h.01M359.9 31.7h.01M353.1 25.1h.01M351.2 31.1h.01M359.9 30.6h.01M370.7 22.8h.01M354.5 23.2h.01M374.6 24.5h.01M349.8 31.4h.01M364.4 24.3h.01M367.1 24.0h.01M362.8 29.5h.01M355.9 24.2h.01M357.3 24.3h.01M363.4 26.8h.01M372.0 25.4h.01M360.0 16.6h.01M358.1 20.6h.01M359.5 27.1h.01M374.7 19.9h.01M356.1 28.9h.01M353.7 24.5h.01M372.0 25.6h.01M352.5 25.7h.01M370.6 18.7h.01M365.2 22.3h.01M373.6 21.2h.01M357.4 25.5h.01M371.0 29.9h.01M351.5 24.0h.01M369.2 25.0h.01M357.6 18.2h.01M361.0 23.5h.01M369.5 23.9h.01M365.4 24.1h.01M360.9 26.8h.01M356.7 29.5h.01M368.5 24.7h.01M361.1 26.1h.01M355.5 19.5h.01M359.3 26.8h.01M369.5 24.9h.01M350.8 18.9h.01M357.5 25.9h.01M367.8 22.5h.01M364.9 28.2h.01M360.5 26.3h.01M353.3 25.0h.01M350.5 30.5h.01M359.5 24.2h.01M366.8 23.7h.01M356.1 24.9h.01M372.2 25.2h.01M365.0 21.9h.01M360.9 26.7h.01M368.5 26.2h.01M356.9 23.0h.01M372.0 19.6h.01M358.6 28.9h.01M349.4 29.3h.01M374.2 27.9h.01M361.9 28.2h.01M372.3 31.0h.01M352.1 26.1h.01M354.4 30.5h.01M361.6 24.6h.01M372.0 22.1h.01M351.6 25.2h.01M363.0 24.1h.01M368.6 26.8h.01M359.2 31.3h.01M360.6 26.6h.01M373.0 28.7h.01M362.9 32.4h.01M366.8 31.3h.01M366.4 25.5h.01M372.1 23.0h.01M358.0 32.4h.01M363.2 21.6h.01M354.7 19.1h.01M357.8 18.5h.01M370.2 29.2h.01M373.8 20.3h.01M357.6 24.4h.01M368.6 24.8h.01M363.0 29.7h.01M366.9 20.6h.01M358.6 25.4h.01M358.3 26.3h.01M354.5 30.0h.01M362.0 24.5h.01M350.7 26.2h.01M371.2 24.3h.01M355.5 29.0h.01M365.4 28.5h.01M362.1 24.0h.01M358.1 27.2h.01M373.3 20.3h.01M370.9 25.5h.01M368.0 22.3h.01M352.3 23.9h.01M361.0 28.7h.01M365.8 32.6h.01M351.7 26.0h.01M367.0 24.9h.01M370.0 24.2h.01M373.4 27.9h.01M362.1 24.7h.01M350.0 28.7h.01M354.6 30.6h.01M369.8 27.5h.01M353.1 24.0h.01M365.1 27.9h.01M365.9 23.0h.01M360.6 19.4h.01M369.2 29.2h.01M352.4 31.9h.01M365.1 29.9h.01M359.0 24.1h.01M371.1 13.9h.01M359.4 22.9h.01M354.1 27.5h.01M358.0 24.0h.01M362.6 30.1h.01M351.3 22.6h.01M371.2 27.0h.01M365.8 26.1h.01M357.2 26.2h.01M364.7 20.6h.01M374.3 25.0h.01M364.6 26.2h.01M359.6 24.0h.01M366.6 20.9h.01M368.5 23.7h.01M366.7 22.1h.01M354.7 26.5h.01M349.8 28.6h.01M357.3 26.4h.01M360.3 26.5h.01M370.4 24.7h.01M351.5 25.9h.01M370.7 18.6h.01M350.8 25.5h.01M357.3 28.3h.01M359.6 23.5h.01M373.0 27.6h.01M373.4 20.1h.01M350.3 25.4h.01M354.3 24.6h.01M360.7 26.8h.01M356.2 25.8h.01M373.5 32.8h.01M364.8 14.4h.01M357.6 20.3h.01M364.5 23.0h.01M366.4 25.6h.01M371.1 23.0h.01M371.8 22.9h.01M360.0 19.9h.01M368.6 20.6h.01M374.0 22.3h.01M362.9 30.4h.01M367.9 22.5h.01M361.7 34.7h.01M359.0 28.9h.01M354.5 24.3h.01M351.6 28.0h.01M357.5 28.7h.01M358.3 21.2h.01M363.8 19.7h.01M366.3 30.3h.01M367.4 22.0h.01M368.8 28.2h.01M363.8 27.6h.01M362.3 19.5h.01M364.8 27.5h.01M367.1 27.2h.01M370.8 29.6h.01M355.7 25.1h.01M371.1 26.8h.01M354.3 26.5h.01M349.7 24.5h.01M369.5 34.6h.01M355.2 30.7h.01M370.6 34.0h.01M358.4 27.2h.01M358.3 31.9h.01M371.4 19.6h.01M368.6 21.5h.01M350.8 30.9h.01M373.3 23.8h.01M354.6 22.8h.01M366.2 26.0h.01M373.2 15.9h.01M370.7 26.1h.01M361.7 27.9h.01M373.4 23.2h.01M366.7 18.6h.01M355.6 35.3h.01M373.8 27.6h.01M363.7 19.1h.01M357.5 21.7h.01M360.3 15.7h.01M354.2 15.0h.01M363.9 14.0h.01M363.7 20.2h.01M353.4 27.5h.01M359.8 29.4h.01M356.1 24.4h.01M372.0 31.0h.01M354.2 28.4h.01M364.8 18.4h.01M365.6 20.2h.01M364.6 26.7h.01M358.8 29.0h.01M355.5 31.4h.01M349.5 17.1h.01M354.5 13.8h.01M370.0 36.8h.01M356.4 23.5h.01M362.9 30.9h.01M356.9 25.3h.01M350.9 17.1h.01M360.0 33.3h.01M374.5 27.9h.01M359.5 33.7h.01M357.8 28.7h.01M363.9 19.4h.01M358.4 25.0h.01M355.3 31.0h.01M359.0 21.2h.01M372.2 26.3h.01M352.9 32.0h.01M352.6 18.0h.01M368.5 23.1h.01M354.1 26.3h.01M352.6 30.8h.01M355.5 24.7h.01M371.7 21.1h.01M373.2 28.5h.01M373.0 21.7h.01M357.3 27.7h.01M372.3 27.4h.01M350.9 24.1h.01M361.5 30.3h.01M363.3 32.1h.01M360.7 17.7h.01M374.2 28.3h.01M368.5 24.3h.01M361.4 23.6h.01M367.9 25.8h.01M368.7 32.1h.01M352.2 24.5h.01M357.5 23.5h.01M357.6 18.1h.01M373.3 24.4h.01M371.0 25.3h.01M356.9 19.8h.01M374.4 23.6h.01M351.1 28.1h.01M357.8 33.4h.01M354.4 23.8h.01M362.5 37.0h.01M372.3 31.2h.01M369.3 30.5h.01M350.2 28.9h.01M355.6 26.1h.01M369.1 21.9h.01M356.4 25.1h.01M370.1 25.9h.01M365.1 26.5h.01M367.0 34.5h.01M367.4 37.2h.01M364.0 28.7h.01M354.0 31.4h.01M369.9 21.7h.01M363.6 14.2h.01M367.6 25.1h.01M350.0 27.1h.01M353.9 33.8h.01M352.0 36.5h.01M371.0 37.0h.01M364.0 38.5h.01M369.0 12.5h.01M353.0 14.0h.01M356.0 36.0h.01M367.0 13.0h.01M400.7 29.9h.01M403.1 26.4h.01M388.3 22.0h.01M389.8 25.4h.01M404.2 18.7h.01M404.8 23.4h.01M410.3 19.6h.01M403.3 23.7h.01M406.6 28.5h.01M402.1 31.1h.01M397.9 24.4h.01M399.3 25.0h.01M411.9 18.0h.01M411.4 21.4h.01M410.1 28.8h.01M402.3 27.6h.01M393.1 26.5h.01M389.7 25.2h.01M410.8 29.3h.01M390.3 22.8h.01M396.7 23.0h.01M408.4 33.2h.01M392.9 20.8h.01M408.0 25.2h.01M393.7 22.4h.01M407.6 28.8h.01M405.8 22.8h.01M395.0 22.5h.01M396.3 22.6h.01M396.9 26.4h.01M402.4 20.3h.01M410.7 18.6h.01M401.6 23.3h.01M398.3 22.5h.01M397.6 25.5h.01M392.2 22.5h.01M404.7 21.6h.01M400.3 24.6h.01M410.4 25.1h.01M400.8 27.1h.01M412.0 23.9h.01M398.9 17.5h.01M400.8 23.5h.01M392.3 23.7h.01M407.7 23.3h.01M388.4 25.5h.01M392.2 22.7h.01M395.7 27.5h.01M409.0 22.7h.01M403.2 28.4h.01M395.5 19.9h.01M410.9 15.7h.01M408.8 20.4h.01M388.5 33.4h.01M393.9 22.8h.01M405.4 23.3h.01M409.8 24.6h.01M406.6 22.2h.01M410.1 24.6h.01M390.9 24.1h.01M387.9 30.7h.01M398.9 27.8h.01M389.3 24.6h.01M404.5 26.1h.01M411.0 25.8h.01M398.3 20.1h.01M402.4 27.6h.01M397.5 21.6h.01M391.9 26.4h.01M390.7 24.2h.01M405.9 26.8h.01M410.7 28.6h.01M397.0 25.8h.01M391.1 22.1h.01M408.8 22.7h.01M394.4 25.7h.01M407.2 22.4h.01M404.3 22.5h.01M395.6 23.4h.01M400.7 22.6h.01M397.1 25.6h.01M390.9 22.2h.01M393.4 24.1h.01M402.2 21.3h.01M407.5 17.9h.01M390.0 26.5h.01M392.7 27.1h.01M388.0 22.1h.01M412.7 26.5h.01M390.4 24.8h.01M397.4 19.8h.01M389.1 27.8h.01M400.4 17.0h.01M403.8 23.6h.01M401.0 26.2h.01M404.9 20.0h.01M393.2 29.3h.01M410.9 21.8h.01M407.2 28.1h.01M392.5 23.2h.01M399.2 26.2h.01M388.2 23.6h.01M408.8 31.9h.01M410.5 25.2h.01M401.0 27.3h.01M396.8 26.3h.01M408.0 24.5h.01M396.7 23.0h.01M388.9 25.3h.01M404.6 27.3h.01M398.0 27.0h.01M413.0 25.8h.01M400.7 23.5h.01M390.6 26.3h.01M407.6 20.6h.01M412.1 23.9h.01M390.8 17.0h.01M395.8 21.6h.01M400.0 23.4h.01M405.7 19.2h.01M405.6 20.1h.01M403.6 27.2h.01M409.6 25.7h.01M406.4 27.7h.01M388.3 28.0h.01M412.3 26.2h.01M408.7 26.7h.01M404.8 25.0h.01M407.6 28.4h.01M408.7 18.9h.01M389.0 23.5h.01M403.8 27.6h.01M391.3 26.9h.01M394.2 24.3h.01M408.5 22.9h.01M401.6 26.9h.01M395.3 23.5h.01M392.6 20.3h.01M399.8 28.0h.01M390.4 22.8h.01M397.5 24.7h.01M409.5 18.6h.01M397.1 15.4h.01M400.8 25.6h.01M411.8 29.7h.01M396.9 16.3h.01M394.8 22.3h.01M398.3 26.0h.01M397.6 24.7h.01M412.1 24.3h.01M388.0 24.0h.01M391.5 20.8h.01M407.6 27.8h.01M387.8 27.3h.01M398.8 25.3h.01M405.4 16.3h.01M389.1 29.8h.01M395.8 23.9h.01M394.8 25.9h.01M400.7 30.6h.01M403.5 28.5h.01M407.0 23.8h.01M390.2 27.7h.01M393.9 26.1h.01M407.0 22.1h.01M409.9 24.5h.01M395.9 18.1h.01M389.2 18.7h.01M391.2 24.7h.01M407.8 28.9h.01M391.0 20.7h.01M393.2 28.2h.01M392.5 24.6h.01M398.2 30.2h.01M404.0 22.9h.01M391.2 34.2h.01M399.7 25.6h.01M411.3 23.3h.01M400.3 25.0h.01M400.1 17.9h.01M406.3 25.3h.01M401.8 23.0h.01M398.9 25.8h.01M409.1 23.0h.01M391.3 14.8h.01M392.9 15.2h.01M412.8 21.8h.01M394.4 19.7h.01M389.7 27.1h.01M391.9 20.4h.01M411.7 25.6h.01M392.4 23.5h.01M401.2 29.3h.01M406.3 24.4h.01M388.4 24.7h.01M394.9 20.6h.01M406.4 25.3h.01M394.7 26.3h.01M396.7 23.6h.01M401.9 26.5h.01M408.1 20.5h.01M395.7 23.3h.01M391.8 25.4h.01M388.4 23.0h.01M394.7 28.2h.01M404.7 26.2h.01M410.9 21.9h.01M400.5 20.8h.01M391.4 24.0h.01M403.4 21.5h.01M390.2 22.7h.01M391.0 20.2h.01M391.2 26.7h.01M411.2 24.6h.01M403.4 25.0h.01M387.9 26.8h.01M411.3 16.2h.01M397.6 24.1h.01M391.9 23.2h.01M404.9 26.3h.01M400.7 25.7h.01M403.6 25.8h.01M398.9 28.5h.01M393.3 17.6h.01M387.8 20.4h.01M404.5 28.2h.01M400.0 28.9h.01M398.6 21.2h.01M403.4 27.8h.01M400.4 27.0h.01M411.0 19.4h.01M406.3 22.0h.01M411.3 25.2h.01M393.6 23.8h.01M403.5 30.2h.01M410.7 26.1h.01M407.2 27.1h.01M397.6 21.8h.01M406.5 19.8h.01M402.5 21.9h.01M395.2 28.8h.01M406.4 30.3h.01M390.2 21.3h.01M390.2 23.5h.01M392.7 15.5h.01M391.5 28.4h.01M409.8 19.7h.01M393.5 27.1h.01M412.4 28.4h.01M388.8 19.5h.01M389.6 21.0h.01M398.4 26.5h.01M403.5 28.7h.01M403.8 22.2h.01M390.6 20.4h.01M401.1 25.2h.01M392.4 28.3h.01M393.9 20.2h.01M394.0 21.3h.01M394.6 28.0h.01M409.7 24.7h.01M408.1 21.2h.01M391.6 24.0h.01M405.1 25.6h.01M393.5 27.5h.01M388.1 25.0h.01M389.4 24.0h.01M406.8 18.3h.01M404.9 25.8h.01M401.2 25.7h.01M391.0 24.7h.01M408.0 24.1h.01M400.6 24.4h.01M402.3 27.3h.01M408.5 22.7h.01M395.4 19.9h.01M395.6 27.1h.01M390.3 22.7h.01M396.2 23.0h.01M408.4 25.5h.01M403.6 23.1h.01M394.4 23.8h.01M394.7 20.2h.01M404.2 28.4h.01M409.2 19.4h.01M398.1 28.5h.01M387.7 19.7h.01M411.8 21.6h.01M410.1 22.5h.01M403.7 27.0h.01M388.8 24.7h.01M399.1 22.4h.01M395.2 19.7h.01M389.8 27.4h.01M398.0 24.1h.01M400.6 25.4h.01M400.6 23.3h.01M394.8 22.3h.01M394.0 26.2h.01M408.4 25.0h.01M390.5 27.9h.01M401.1 24.6h.01M401.8 19.2h.01M392.2 26.6h.01M388.3 24.2h.01M400.5 23.2h.01M401.4 13.4h.01M391.7 21.0h.01M387.8 24.5h.01M400.9 21.8h.01M388.2 24.8h.01M398.3 26.0h.01M407.3 23.9h.01M409.2 20.8h.01M402.5 25.4h.01M403.0 25.2h.01M391.2 23.1h.01M400.5 17.5h.01M393.8 19.8h.01M408.7 26.7h.01M397.5 23.1h.01M403.6 17.9h.01M407.0 23.3h.01M398.8 24.1h.01M411.4 26.1h.01M401.1 25.4h.01M394.6 25.2h.01M409.5 21.3h.01M404.7 18.2h.01M388.0 21.8h.01M394.3 28.6h.01M406.9 18.8h.01M404.5 27.0h.01M399.9 18.8h.01M411.9 19.5h.01M396.3 24.3h.01M405.4 21.1h.01M396.6 23.1h.01M394.5 20.0h.01M393.1 24.4h.01M390.0 26.8h.01M390.9 18.9h.01M392.2 25.8h.01M395.3 25.2h.01M412.0 26.6h.01M391.7 16.1h.01M398.9 26.9h.01M392.6 20.0h.01M398.5 23.0h.01M388.5 22.4h.01M394.6 20.4h.01M394.1 20.9h.01M401.2 21.4h.01M388.0 24.4h.01M400.2 26.3h.01M389.9 22.8h.01M409.8 26.5h.01M398.5 24.4h.01M407.1 27.8h.01M408.8 19.3h.01M395.7 24.3h.01M408.2 23.7h.01M401.6 24.3h.01M408.4 25.0h.01M408.0 26.6h.01M391.7 24.3h.01M404.4 25.6h.01M398.1 22.9h.01M388.4 23.3h.01M393.6 21.7h.01M393.1 27.5h.01M401.7 26.5h.01M396.8 28.2h.01M392.2 22.3h.01M407.7 23.2h.01M391.8 32.2h.01M406.6 27.5h.01M405.8 18.9h.01M392.1 26.3h.01M405.4 25.0h.01M405.2 22.7h.01M404.8 22.9h.01M412.1 21.0h.01M411.3 22.1h.01M399.0 21.2h.01M395.7 19.9h.01M390.6 22.5h.01M396.0 20.8h.01M404.2 26.3h.01M408.9 27.3h.01M391.4 23.3h.01M400.9 22.7h.01M391.7 26.0h.01M409.9 23.4h.01M410.9 30.7h.01M389.9 14.9h.01M389.7 15.9h.01M408.9 20.1h.01M398.8 25.5h.01M396.9 26.5h.01M412.7 22.2h.01M410.7 23.9h.01M393.8 22.9h.01M394.3 25.5h.01M411.2 30.7h.01M411.3 16.2h.01M398.9 31.4h.01M398.3 27.5h.01M407.6 22.8h.01M391.0 25.6h.01M395.6 23.8h.01M389.7 25.5h.01M391.7 25.5h.01M391.2 26.5h.01M396.0 20.5h.01M406.8 26.0h.01M411.3 21.7h.01M392.7 22.9h.01M392.2 26.6h.01M401.6 22.4h.01M404.7 24.9h.01M407.3 25.0h.01M401.4 24.3h.01M410.4 19.8h.01M391.9 25.6h.01M399.5 24.5h.01M391.1 31.5h.01M412.6 20.4h.01M412.8 27.5h.01M403.6 22.5h.01M408.3 22.9h.01M402.2 29.8h.01M412.0 23.5h.01M407.3 26.7h.01M400.9 24.4h.01M399.6 20.9h.01M405.5 23.2h.01M391.5 22.5h.01M398.4 23.2h.01M389.8 30.3h.01M398.0 25.6h.01M410.9 18.1h.01M400.5 30.4h.01M406.3 25.3h.01M390.0 27.0h.01M388.8 29.3h.01M393.1 21.2h.01M408.0 25.1h.01M393.2 23.5h.01M391.4 22.8h.01M406.4 23.0h.01M402.2 24.3h.01M391.8 28.0h.01M400.6 26.6h.01M393.6 25.0h.01M397.4 28.1h.01M401.0 16.1h.01M412.4 24.1h.01M397.4 25.2h.01M391.5 25.1h.01M404.7 28.8h.01M409.2 24.6h.01M408.6 28.7h.01M394.2 23.4h.01M410.6 26.4h.01M391.1 24.4h.01M391.1 23.2h.01M407.0 25.8h.01M405.8 26.0h.01M400.9 21.0h.01M405.5 27.3h.01M394.9 23.2h.01M411.6 24.4h.01M397.9 14.9h.01M407.3 24.0h.01M410.2 17.5h.01M400.7 27.0h.01M387.8 21.4h.01M407.3 22.5h.01M411.9 23.4h.01M393.4 19.5h.01M412.7 24.1h.01M389.1 19.9h.01M406.2 23.3h.01M410.9 27.0h.01M412.0 28.4h.01M388.6 28.9h.01M411.3 23.3h.01M406.5 20.8h.01M409.4 25.7h.01M402.6 29.3h.01M393.4 21.1h.01M404.3 28.7h.01M406.2 23.6h.01M394.7 15.0h.01M401.1 24.3h.01M408.2 30.4h.01M407.4 26.5h.01M397.0 27.7h.01M405.5 25.4h.01M410.1 18.3h.01M409.4 16.0h.01M389.7 20.4h.01M395.7 22.7h.01M394.3 20.6h.01M399.5 21.3h.01M392.6 26.7h.01M391.9 29.0h.01M406.9 18.3h.01M398.8 20.4h.01M394.0 23.7h.01M391.5 23.3h.01M396.4 16.0h.01M408.2 34.0h.01M403.4 26.4h.01M408.5 25.2h.01M407.9 17.5h.01M412.9 25.0h.01M388.6 20.0h.01M405.6 25.8h.01M392.8 25.0h.01M393.6 24.2h.01M389.7 25.5h.01M406.9 22.0h.01M388.8 24.6h.01M402.0 15.8h.01M392.4 26.5h.01M407.1 23.4h.01M395.9 32.7h.01M389.4 24.4h.01M411.5 16.0h.01M393.7 29.2h.01M398.3 21.5h.01M392.3 20.2h.01M393.0 23.9h.01M399.3 28.4h.01M388.9 30.7h.01M387.9 22.7h.01M402.7 24.8h.01M397.0 24.8h.01M411.9 21.8h.01M412.1 22.3h.01M387.9 23.5h.01M403.2 23.8h.01M394.4 27.6h.01M389.6 17.4h.01M406.3 25.6h.01M397.9 25.3h.01M394.7 28.7h.01M399.7 22.7h.01M391.8 22.7h.01M404.5 24.4h.01M396.2 22.1h.01M411.8 22.0h.01M403.2 21.7h.01M408.2 21.7h.01M411.9 20.5h.01M390.0 21.9h.01M407.7 21.3h.01M398.3 21.5h.01M400.0 19.4h.01M402.4 27.2h.01M403.4 25.0h.01M409.2 23.8h.01M392.5 20.3h.01M403.2 26.1h.01M405.5 23.1h.01M396.8 23.6h.01M390.9 24.3h.01M410.7 23.6h.01M389.0 27.3h.01M403.5 21.2h.01M402.7 21.7h.01M403.8 24.5h.01M411.5 23.3h.01M412.3 25.8h.01M393.3 27.1h.01M405.7 28.7h.01M407.9 27.2h.01M400.3 23.0h.01M405.5 23.4h.01M388.3 22.7h.01M398.8 27.9h.01M398.4 23.2h.01M407.1 21.1h.01M394.9 20.4h.01M411.1 26.5h.01M405.6 21.0h.01M406.4 15.0h.01M411.4 26.4h.01M400.8 25.1h.01M400.5 26.6h.01M388.0 27.4h.01M389.9 25.7h.01M407.8 25.3h.01M403.1 24.2h.01M406.6 21.3h.01M398.7 16.8h.01M391.7 17.3h.01M390.5 25.3h.01M411.4 26.7h.01M406.4 24.1h.01M391.4 21.4h.01M395.0 26.2h.01M392.1 23.9h.01M395.8 24.0h.01M403.4 22.8h.01M398.3 20.0h.01M408.9 20.6h.01M389.2 25.3h.01M388.6 29.5h.01M407.7 30.0h.01M409.0 23.4h.01M404.3 25.6h.01M393.5 23.7h.01M402.9 24.6h.01M389.9 25.4h.01M401.0 27.1h.01M399.0 20.2h.01M389.6 30.1h.01M406.8 23.6h.01M411.2 20.7h.01M391.0 31.9h.01M409.8 21.0h.01M389.3 23.9h.01M406.0 21.6h.01M409.0 28.1h.01M400.7 14.9h.01M408.3 25.2h.01M411.4 18.6h.01M401.7 29.3h.01M402.9 31.2h.01M411.1 27.0h.01M394.9 21.4h.01M406.0 28.0h.01M405.8 31.5h.01M404.6 24.9h.01M404.5 22.8h.01M394.0 29.0h.01M410.5 19.5h.01M403.5 23.1h.01M396.0 23.9h.01M392.6 24.5h.01M406.2 27.8h.01M388.2 23.5h.01M401.2 20.3h.01M392.9 19.3h.01M410.9 23.5h.01M405.9 25.6h.01M399.0 27.3h.01M403.2 26.2h.01M400.0 19.3h.01M389.4 26.0h.01M398.4 21.8h.01M403.4 28.5h.01M400.6 23.0h.01M411.8 23.1h.01M397.1 22.1h.01M401.2 27.4h.01M397.2 23.7h.01M410.2 33.4h.01M410.9 28.0h.01M399.7 20.1h.01M392.5 23.9h.01M399.0 27.6h.01M408.2 26.8h.01M397.1 26.1h.01M410.9 24.9h.01M408.1 18.8h.01M391.1 19.0h.01M401.2 26.8h.01M409.8 21.9h.01M411.4 24.1h.01M390.6 26.2h.01M390.3 17.6h.01M400.2 17.6h.01M400.9 25.9h.01M394.2 22.1h.01M410.6 22.9h.01M393.4 27.9h.01M405.5 23.1h.01M406.9 23.9h.01M388.5 25.0h.01M389.0 18.2h.01M403.2 30.0h.01M390.5 25.4h.01M392.1 22.2h.01M409.5 27.9h.01M399.4 20.9h.01M397.5 21.7h.01M411.3 19.8h.01M398.9 23.2h.01M393.0 21.5h.01M398.7 24.9h.01M400.1 21.7h.01M408.5 24.9h.01M408.7 25.5h.01M392.8 25.4h.01M398.8 25.3h.01M411.6 24.3h.01M393.0 21.2h.01M392.8 17.3h.01M398.2 25.2h.01M411.0 19.2h.01M395.8 25.2h.01M401.5 23.8h.01M393.4 23.8h.01M391.4 24.0h.01M396.0 26.0h.01M399.3 20.7h.01M406.7 25.1h.01M398.5 27.7h.01M407.8 26.7h.01M411.1 27.8h.01M390.1 23.1h.01M405.6 23.7h.01M394.4 30.4h.01M397.1 25.7h.01M390.0 24.9h.01M402.9 27.4h.01M409.4 21.0h.01M395.9 23.6h.01M405.5 25.5h.01M408.4 23.8h.01M398.5 29.1h.01M395.0 25.5h.01M391.0 27.0h.01M411.2 21.2h.01M395.8 24.0h.01M404.7 23.9h.01M400.0 25.8h.01M409.1 25.7h.01M396.0 24.0h.01M409.2 26.0h.01M410.9 31.1h.01M409.1 24.1h.01M396.0 21.8h.01M395.4 28.1h.01M398.6 29.1h.01M407.6 24.7h.01M404.2 27.3h.01M394.2 17.1h.01M399.5 25.6h.01M393.7 23.4h.01M408.3 31.5h.01M409.7 24.8h.01M396.4 30.3h.01M411.9 23.4h.01M400.6 23.1h.01M397.8 22.2h.01M388.6 20.1h.01M396.2 22.1h.01M409.4 27.8h.01M406.0 18.9h.01M411.3 24.4h.01M388.5 27.8h.01M407.8 24.9h.01M401.3 25.8h.01M411.7 25.2h.01M406.9 25.8h.01M400.8 17.6h.01M404.3 29.1h.01M412.1 25.3h.01M389.9 22.2h.01M392.9 23.1h.01M398.2 23.6h.01M395.4 26.4h.01M401.8 20.1h.01M403.0 19.8h.01M404.9 19.7h.01M387.9 27.1h.01M409.7 21.0h.01M392.6 24.5h.01M389.9 20.2h.01M408.3 23.9h.01M393.3 22.4h.01M394.6 21.6h.01M395.8 27.9h.01M393.4 24.4h.01M405.1 20.9h.01M392.2 32.2h.01M409.8 20.9h.01M401.6 20.2h.01M407.3 18.4h.01M410.8 29.6h.01M410.9 24.8h.01M403.2 25.3h.01M405.7 27.8h.01M394.2 24.6h.01M396.2 26.6h.01M400.4 29.8h.01M396.4 25.0h.01M400.0 26.9h.01M399.0 24.9h.01M399.7 24.6h.01M398.0 29.0h.01M392.9 26.1h.01M405.7 25.1h.01M393.4 17.8h.01M392.1 21.2h.01M393.5 21.8h.01M401.4 24.1h.01M388.5 25.4h.01M404.5 24.7h.01M395.4 23.6h.01M395.2 25.3h.01M404.5 25.4h.01M407.5 27.2h.01M391.1 18.2h.01M404.2 27.6h.01M388.1 30.8h.01M412.9 28.0h.01M393.1 22.7h.01M398.2 21.1h.01M399.0 24.0h.01M395.5 28.7h.01M409.2 25.1h.01M412.9 17.4h.01M392.0 13.0h.01M390.7 24.8h.01M393.8 32.2h.01M397.1 18.8h.01M387.7 22.0h.01M397.0 24.2h.01M402.3 25.1h.01M392.4 27.0h.01M394.7 18.7h.01M398.6 24.4h.01M399.0 21.8h.01M402.0 26.9h.01M391.0 25.3h.01M401.6 27.8h.01M405.3 19.9h.01M413.1 20.2h.01M400.4 21.6h.01M412.0 22.4h.01M398.9 21.6h.01M410.4 19.7h.01M406.1 22.0h.01M396.9 18.5h.01M389.1 27.3h.01M395.2 22.3h.01M390.1 19.6h.01M397.5 24.5h.01M406.8 18.5h.01M401.5 25.2h.01M401.6 22.7h.01M407.9 29.8h.01M408.4 25.8h.01M407.2 21.3h.01M406.5 27.0h.01M397.4 24.4h.01M395.3 26.2h.01M400.9 13.5h.01M392.4 22.4h.01M389.5 22.4h.01M392.3 28.3h.01M404.9 20.3h.01M411.1 25.1h.01M404.4 23.3h.01M406.0 19.2h.01M389.6 22.0h.01M396.7 25.8h.01M403.7 23.2h.01M399.9 23.3h.01M395.6 23.6h.01M411.4 24.2h.01M393.7 25.0h.01M404.9 23.6h.01M399.7 18.9h.01M412.3 23.2h.01M387.7 24.2h.01M404.7 29.4h.01M409.2 20.5h.01M407.4 29.2h.01M388.5 22.0h.01M395.9 29.3h.01M400.0 16.9h.01M398.3 22.9h.01M393.3 15.9h.01M388.8 18.9h.01M402.7 22.3h.01M412.0 26.5h.01M400.9 19.2h.01M394.9 25.1h.01M391.9 18.9h.01M411.7 33.0h.01M410.3 20.3h.01M389.8 35.0h.01M408.6 34.1h.01M405.5 18.5h.01M395.6 26.7h.01M401.3 21.0h.01M396.6 32.1h.01M396.9 25.6h.01M401.5 34.2h.01M408.3 22.6h.01M395.8 22.0h.01M390.7 19.2h.01M410.5 24.5h.01M395.5 26.1h.01M393.1 24.1h.01M409.1 25.4h.01M399.4 28.1h.01M409.0 23.3h.01M412.8 20.0h.01M391.9 17.9h.01M406.0 20.5h.01M397.6 21.8h.01M397.8 29.6h.01M397.0 29.0h.01M400.7 19.5h.01M406.5 27.2h.01M391.7 18.5h.01M397.9 28.5h.01M392.9 14.4h.01M391.3 29.4h.01M389.4 22.7h.01M411.1 25.2h.01M396.7 23.2h.01M400.2 17.7h.01M393.0 24.5h.01M399.6 23.9h.01M387.8 28.2h.01M401.7 27.4h.01M394.6 30.9h.01M398.1 27.0h.01M390.7 17.2h.01M406.1 28.3h.01M388.8 16.9h.01M389.1 19.7h.01M409.9 24.2h.01M404.3 19.0h.01M398.4 21.6h.01M404.9 29.7h.01M400.3 20.3h.01M395.4 18.7h.01M391.0 16.4h.01M397.9 40.2h.01M407.5 21.3h.01M390.7 24.1h.01M389.3 24.1h.01M409.4 30.3h.01M403.3 20.6h.01M391.6 18.7h.01M395.0 21.7h.01M409.7 19.4h.01M396.7 15.6h.01M408.8 13.0h.01M402.7 24.1h.01M390.9 21.4h.01M394.4 31.9h.01M397.8 20.9h.01M392.5 21.8h.01M410.6 30.9h.01M409.2 14.2h.01M407.9 28.4h.01M411.6 19.1h.01M397.0 17.3h.01M389.8 26.0h.01M410.1 24.6h.01M408.7 17.3h.01M395.4 25.3h.01M394.0 32.8h.01M409.5 28.6h.01M396.0 24.6h.01M391.3 20.7h.01M394.5 23.4h.01M406.0 26.6h.01M404.6 22.6h.01M392.5 26.5h.01M391.6 29.5h.01M398.7 15.4h.01M398.5 24.9h.01M388.8 26.8h.01M390.1 22.4h.01M408.7 20.2h.01M399.4 32.6h.01M387.7 23.4h.01M407.4 23.4h.01M395.4 39.5h.01M403.4 39.5h.01M401.4 40.0h.01M398.4 11.5h.01M406.4 12.5h.01M409.4 13.5h.01M392.4 36.0h.01M410.4 35.0h.01M433.1 54.1h.01M428.8 55.6h.01M434.5 52.9h.01M427.2 52.9h.01M450.2 54.7h.01M450.2 52.8h.01M436.1 54.3h.01M436.3 53.9h.01M433.4 50.8h.01M429.1 58.0h.01M446.6 55.6h.01M432.0 50.8h.01M450.0 50.7h.01M437.9 52.1h.01M435.3 51.7h.01M439.1 50.6h.01M445.8 54.2h.01M441.0 52.5h.01M431.7 50.7h.01M449.3 58.1h.01M440.4 52.5h.01M430.0 54.4h.01M445.0 49.5h.01M426.8 50.2h.01M435.0 50.5h.01M436.5 56.2h.01M426.4 55.6h.01M433.9 52.8h.01M449.2 52.6h.01M441.4 54.4h.01M432.2 50.9h.01M428.4 52.7h.01M444.4 56.3h.01M436.3 50.8h.01M429.6 55.4h.01M450.2 53.1h.01M430.3 54.0h.01M447.1 53.0h.01M442.7 56.0h.01M427.1 56.0h.01M434.7 55.1h.01M446.6 48.6h.01M441.8 53.8h.01M429.1 56.9h.01M431.6 50.4h.01M438.1 48.9h.01M427.7 52.8h.01M433.7 55.8h.01M441.9 49.7h.01M427.1 54.4h.01M445.2 52.6h.01M439.6 53.3h.01M446.8 54.6h.01M444.7 52.9h.01M438.1 51.7h.01M426.8 53.9h.01M431.7 58.0h.01M431.9 55.2h.01M442.1 55.5h.01M440.0 50.7h.01M431.3 51.9h.01M427.5 49.5h.01M444.2 56.2h.01M448.4 56.4h.01M447.4 54.7h.01M444.5 55.8h.01M430.7 52.2h.01M429.1 52.4h.01M444.7 57.1h.01M441.0 52.3h.01M432.5 56.5h.01M439.0 58.4h.01M449.9 50.1h.01M429.0 50.9h.01M441.2 58.5h.01M449.5 56.4h.01M434.7 58.1h.01M451.3 58.5h.01M432.3 52.7h.01M432.6 59.5h.01M427.2 57.7h.01M432.7 56.6h.01M438.6 54.5h.01M437.9 52.5h.01M449.3 51.3h.01M433.3 49.3h.01M429.0 51.1h.01M438.0 51.3h.01M439.2 54.2h.01M426.7 51.5h.01M443.7 48.4h.01M449.3 54.1h.01M434.9 47.5h.01M440.4 52.6h.01M449.1 55.6h.01M445.7 49.0h.01M440.6 50.0h.01M429.0 53.4h.01M431.4 57.5h.01M435.5 53.2h.01M441.6 52.2h.01M431.6 54.3h.01M428.1 48.4h.01M450.8 49.1h.01M446.7 55.6h.01M442.9 55.9h.01M444.5 55.3h.01M447.7 54.0h.01M448.5 54.9h.01M429.8 48.3h.01M432.3 50.3h.01M450.8 52.4h.01M437.0 56.4h.01M429.6 54.1h.01M443.4 53.7h.01M438.1 50.2h.01M433.1 53.9h.01M434.9 54.7h.01M444.2 55.3h.01M433.3 53.2h.01M449.0 59.7h.01M430.3 50.1h.01M446.3 56.3h.01M432.1 49.8h.01M450.6 49.8h.01M426.6 55.8h.01M430.9 52.4h.01M426.9 51.4h.01M447.0 53.8h.01M434.6 61.3h.01M436.9 51.9h.01M432.4 52.7h.01M434.4 57.4h.01M449.4 52.0h.01M444.1 60.9h.01M435.4 49.9h.01M426.8 53.1h.01M428.7 56.6h.01M435.4 53.0h.01M433.3 52.2h.01M442.6 49.5h.01M441.3 53.3h.01M430.2 56.3h.01M438.7 52.9h.01M446.0 50.7h.01M427.4 57.7h.01M434.9 56.3h.01M433.0 55.4h.01M447.0 53.0h.01M438.2 51.1h.01M444.9 57.1h.01M444.5 53.9h.01M447.4 52.6h.01M432.9 53.1h.01M445.5 54.8h.01M445.1 56.2h.01M426.6 53.6h.01M438.2 52.5h.01M443.0 50.3h.01M441.8 52.8h.01M449.1 53.0h.01M432.3 54.6h.01M443.1 53.6h.01M441.9 52.1h.01M438.9 53.3h.01M444.7 55.5h.01M434.7 53.4h.01M443.2 53.1h.01M438.1 52.9h.01M435.1 52.7h.01M431.9 54.7h.01M440.4 55.5h.01M448.6 52.8h.01M431.0 53.1h.01M448.4 54.8h.01M428.2 55.9h.01M451.2 57.8h.01M438.0 49.7h.01M436.8 56.2h.01M447.7 52.2h.01M429.1 55.5h.01M427.8 56.4h.01M447.4 59.1h.01M431.6 52.2h.01M435.4 56.7h.01M447.3 46.5h.01M442.2 53.8h.01M445.0 47.2h.01M451.2 51.6h.01M431.6 50.3h.01M437.8 49.4h.01M426.6 53.6h.01M448.7 50.4h.01M448.8 50.2h.01M445.2 51.3h.01M431.5 52.1h.01M443.6 55.2h.01M439.1 52.3h.01M438.1 50.9h.01M437.2 48.6h.01M426.5 55.4h.01M430.2 54.5h.01M427.3 55.5h.01M444.6 51.6h.01M449.2 57.2h.01M429.8 55.3h.01M446.8 60.4h.01M431.0 52.6h.01M429.1 56.1h.01M433.9 58.5h.01M446.5 53.0h.01M428.2 53.6h.01M430.6 52.2h.01M447.1 52.8h.01M428.2 56.0h.01M447.8 54.3h.01M448.7 50.5h.01M441.5 61.0h.01M434.1 51.6h.01M441.8 57.1h.01M444.3 53.8h.01M429.7 55.7h.01M428.1 55.4h.01M436.4 56.1h.01M440.5 56.1h.01M450.3 58.8h.01M447.6 51.7h.01M443.3 49.8h.01M447.7 48.8h.01M435.6 47.7h.01M449.0 55.2h.01M445.8 48.5h.01M434.4 48.9h.01M441.7 54.4h.01M436.0 52.8h.01M434.8 54.0h.01M450.2 45.7h.01M445.2 49.9h.01M440.4 49.1h.01M449.2 53.6h.01M449.5 53.5h.01M428.8 54.8h.01M428.7 57.3h.01M450.5 63.9h.01M430.7 52.1h.01M434.5 55.7h.01M439.9 56.3h.01M432.7 53.3h.01M451.0 50.7h.01M438.3 56.2h.01M441.9 56.3h.01M448.5 55.3h.01M436.6 51.5h.01M446.3 47.0h.01M451.1 50.6h.01M445.7 57.2h.01M440.7 57.2h.01M445.6 50.6h.01M427.0 54.4h.01M450.0 57.5h.01M442.7 57.6h.01M427.7 50.9h.01M437.4 53.1h.01M441.2 53.5h.01M432.4 50.4h.01M429.6 58.9h.01M443.3 48.4h.01M450.6 54.9h.01M438.2 56.7h.01M444.2 55.0h.01M432.3 55.9h.01M447.4 47.0h.01M451.3 53.9h.01M442.8 54.6h.01M437.5 54.6h.01M429.5 49.8h.01M449.3 53.0h.01M434.9 51.3h.01M447.9 57.9h.01M426.9 51.8h.01M436.2 53.3h.01M446.4 53.2h.01M429.8 53.1h.01M427.7 58.8h.01M433.7 58.1h.01M444.3 54.9h.01M436.4 52.8h.01M441.6 52.4h.01M443.8 48.2h.01M428.2 54.0h.01M430.3 54.7h.01M435.9 53.2h.01M431.5 51.0h.01M443.8 57.3h.01M433.6 56.1h.01M442.1 54.3h.01M444.1 58.5h.01M445.4 54.5h.01M447.1 59.2h.01M442.9 53.2h.01M434.9 54.3h.01M426.9 52.0h.01M433.9 56.5h.01M444.1 52.4h.01M450.9 55.0h.01M427.0 54.2h.01M431.0 51.6h.01M429.3 60.4h.01M429.4 57.1h.01M431.0 53.1h.01M438.7 56.4h.01M435.8 54.9h.01M450.7 52.5h.01M426.6 59.3h.01M447.5 56.3h.01M440.6 55.7h.01M432.4 55.4h.01M446.6 55.9h.01M450.2 56.1h.01M426.3 54.6h.01M450.7 54.5h.01M427.6 54.3h.01M429.3 49.4h.01M435.8 53.4h.01M429.4 57.5h.01M433.0 58.5h.01M441.7 54.5h.01M447.8 51.5h.01M432.1 56.9h.01M447.9 51.5h.01M449.8 50.8h.01M434.3 49.7h.01M443.9 47.8h.01M430.0 59.5h.01M433.0 54.0h.01M446.7 45.4h.01M427.5 51.4h.01M445.6 48.8h.01M451.0 56.4h.01M445.1 51.9h.01M446.5 51.6h.01M427.1 55.7h.01M428.3 58.6h.01M438.3 51.5h.01M440.4 53.6h.01M445.1 50.9h.01M433.0 56.5h.01M426.8 54.5h.01M436.7 54.1h.01M448.1 51.3h.01M437.5 58.2h.01M428.4 52.9h.01M442.2 57.2h.01M441.7 57.4h.01M438.4 50.3h.01M449.8 53.2h.01M449.7 54.5h.01M426.7 50.5h.01M447.5 53.4h.01M442.0 54.7h.01M444.1 48.8h.01M432.6 52.8h.01M447.0 54.7h.01M451.1 52.4h.01M442.1 52.0h.01M428.7 49.6h.01M442.8 53.8h.01M449.0 54.3h.01M447.3 53.4h.01M439.5 57.8h.01M431.0 53.8h.01M429.8 52.5h.01M441.0 58.9h.01M428.7 55.8h.01M437.5 57.0h.01M449.7 57.6h.01M440.0 52.2h.01M433.8 50.9h.01M431.1 58.7h.01M444.7 48.1h.01M428.1 52.2h.01M429.5 58.5h.01M441.3 51.8h.01M426.5 56.0h.01M429.4 51.4h.01M449.2 60.9h.01M442.6 53.6h.01M428.6 56.2h.01M446.6 49.8h.01M449.1 56.0h.01M429.5 55.9h.01M439.6 52.4h.01M438.2 55.9h.01M437.1 53.2h.01M442.4 55.0h.01M443.1 52.3h.01M429.7 52.5h.01M436.1 50.1h.01M441.8 55.1h.01M445.0 53.2h.01M442.0 51.7h.01M441.0 58.7h.01M441.2 53.9h.01M450.6 53.4h.01M440.9 51.7h.01M428.0 56.6h.01M444.5 54.3h.01M433.6 51.4h.01M448.7 53.1h.01M427.8 55.6h.01M445.7 54.1h.01M437.9 57.3h.01M448.2 56.9h.01M431.7 60.4h.01M445.7 51.9h.01M432.7 53.7h.01M444.9 53.1h.01M434.9 53.1h.01M433.7 54.0h.01M440.3 52.8h.01M440.2 56.5h.01M430.9 50.2h.01M443.7 54.0h.01M438.7 55.7h.01M436.4 56.8h.01M428.6 53.8h.01M451.4 54.8h.01M446.1 54.0h.01M429.8 55.3h.01M449.3 53.3h.01M451.3 56.0h.01M439.0 57.9h.01M438.5 60.1h.01M445.0 52.9h.01M441.5 56.4h.01M436.1 54.7h.01M431.9 55.1h.01M440.8 52.6h.01M451.2 54.2h.01M449.2 55.6h.01M434.1 54.0h.01M428.6 52.7h.01M449.5 57.5h.01M440.6 54.3h.01M428.1 53.2h.01M434.0 54.0h.01M447.3 53.3h.01M428.0 51.7h.01M437.2 55.4h.01M428.8 53.2h.01M448.9 50.2h.01M428.4 56.9h.01M450.6 52.8h.01M440.8 49.6h.01M437.5 53.6h.01M435.6 51.7h.01M444.6 54.4h.01M440.5 50.3h.01M436.0 52.6h.01M439.9 49.0h.01M440.2 49.7h.01M434.2 54.1h.01M449.1 52.1h.01M446.1 58.3h.01M437.0 51.6h.01M442.2 54.3h.01M439.6 50.0h.01M447.7 58.2h.01M434.8 53.9h.01M437.7 49.2h.01M443.0 54.5h.01M435.6 52.3h.01M449.6 60.1h.01M440.1 57.0h.01M435.9 51.5h.01M450.1 55.9h.01M442.5 55.2h.01M448.6 52.7h.01M428.1 52.8h.01M432.7 53.0h.01M442.9 50.9h.01M428.6 54.6h.01M448.0 52.3h.01M437.3 53.5h.01M451.2 52.7h.01M443.5 51.7h.01M429.1 59.5h.01M435.5 54.7h.01M440.6 55.8h.01M434.3 61.8h.01M430.2 53.7h.01M448.7 51.7h.01M438.8 48.7h.01M441.6 49.6h.01M440.0 55.7h.01M435.9 49.7h.01M446.2 47.7h.01M431.8 53.9h.01M448.5 53.6h.01M443.8 58.8h.01M427.6 49.5h.01M444.1 56.8h.01M436.4 46.9h.01M447.9 57.6h.01M435.0 54.6h.01M446.3 51.0h.01M428.0 57.5h.01M441.0 54.3h.01M429.1 55.6h.01M448.6 53.9h.01M433.4 57.2h.01M446.3 55.8h.01M445.4 51.0h.01M433.1 51.2h.01M435.9 51.3h.01M450.8 56.1h.01M438.3 55.6h.01M428.8 54.7h.01M448.2 53.1h.01M444.5 52.1h.01M444.9 54.8h.01M430.1 56.3h.01M439.0 56.1h.01M433.4 58.7h.01M444.5 58.9h.01M431.5 52.7h.01M450.2 61.3h.01M431.9 58.3h.01M442.2 54.7h.01M438.2 54.9h.01M450.0 55.5h.01M444.1 52.3h.01M437.6 51.9h.01M436.8 54.0h.01M433.8 52.8h.01M446.1 45.4h.01M434.2 55.7h.01M445.8 48.2h.01M430.8 54.8h.01M444.7 52.8h.01M448.1 52.0h.01M444.7 56.1h.01M432.8 51.4h.01M445.8 51.0h.01M441.8 54.7h.01M431.5 54.5h.01M449.6 51.8h.01M442.2 51.6h.01M442.8 51.7h.01M432.1 54.8h.01M429.4 55.1h.01M437.2 56.2h.01M447.6 53.5h.01M434.2 51.1h.01M446.1 55.9h.01M426.9 61.6h.01M447.1 58.6h.01M448.2 50.8h.01M426.8 56.1h.01M441.0 53.5h.01M438.9 53.5h.01M447.7 53.0h.01M435.5 51.4h.01M435.5 49.3h.01M432.3 55.1h.01M429.5 50.8h.01M436.7 52.2h.01M439.4 52.7h.01M445.5 54.1h.01M443.1 52.5h.01M446.5 53.4h.01M435.8 52.6h.01M447.4 54.6h.01M428.6 54.9h.01M448.4 58.2h.01M430.1 55.5h.01M435.7 52.1h.01M426.3 55.5h.01M436.1 56.6h.01M427.9 52.2h.01M445.0 52.2h.01M436.9 47.2h.01M443.6 58.3h.01M443.8 54.3h.01M439.6 57.9h.01M429.6 49.3h.01M432.9 46.9h.01M450.3 54.8h.01M440.1 51.4h.01M429.7 54.4h.01M445.7 51.6h.01M441.6 56.3h.01M449.5 52.9h.01M432.4 53.4h.01M429.3 55.3h.01M437.6 52.6h.01M432.1 52.7h.01M450.6 57.6h.01M442.0 53.6h.01M451.1 54.6h.01M440.2 55.4h.01M444.9 54.2h.01M449.9 55.4h.01M449.0 59.6h.01M450.9 57.1h.01M429.6 49.7h.01M427.2 47.4h.01M429.4 51.3h.01M442.0 46.9h.01M444.3 45.9h.01M435.4 50.8h.01M431.8 51.0h.01M446.1 54.4h.01M444.7 55.2h.01M439.0 60.3h.01M450.1 51.8h.01M432.6 52.1h.01M444.3 54.5h.01M430.0 57.1h.01M436.9 53.1h.01M427.7 51.2h.01M430.3 45.9h.01M442.2 56.4h.01M447.8 53.2h.01M435.0 58.5h.01M449.2 59.3h.01M438.1 59.5h.01M436.7 55.2h.01M443.1 56.5h.01M450.7 49.9h.01M444.6 55.1h.01M443.6 52.8h.01M447.0 56.9h.01M433.0 52.3h.01M440.8 53.2h.01M433.8 51.4h.01M439.7 59.3h.01M435.0 54.2h.01M439.5 50.9h.01M435.6 52.7h.01M438.1 50.0h.01M445.5 57.4h.01M445.8 57.5h.01M443.2 54.3h.01M438.3 54.7h.01M438.1 49.5h.01M429.4 58.5h.01M439.0 53.7h.01M440.7 59.9h.01M438.5 52.1h.01M440.4 55.2h.01M443.3 56.4h.01M445.6 56.2h.01M430.8 53.5h.01M434.3 57.1h.01M450.2 55.0h.01M426.4 53.9h.01M445.4 50.8h.01M436.9 57.6h.01M440.5 53.9h.01M437.3 55.3h.01M445.0 53.6h.01M438.1 54.9h.01M446.8 52.7h.01M430.8 61.5h.01M432.0 59.2h.01M448.4 55.8h.01M446.0 54.7h.01M439.1 55.8h.01M439.3 51.3h.01M430.0 55.6h.01M438.7 53.6h.01M450.1 52.6h.01M441.1 51.8h.01M438.9 51.8h.01M432.6 55.3h.01M436.4 53.9h.01M446.1 51.5h.01M441.4 55.1h.01M433.7 54.2h.01M438.1 53.5h.01M445.0 58.1h.01M427.7 53.1h.01M427.4 49.9h.01M447.3 54.3h.01M440.2 50.9h.01M431.0 56.3h.01M445.8 55.5h.01M437.2 52.9h.01M426.5 55.3h.01M447.4 52.6h.01M439.1 52.5h.01M442.7 48.6h.01M430.2 47.7h.01M434.5 52.6h.01M438.6 59.0h.01M441.3 50.3h.01M449.2 53.6h.01M435.6 51.9h.01M436.5 55.3h.01M442.7 51.4h.01M441.0 53.5h.01M428.9 55.0h.01M446.5 52.3h.01M448.0 53.4h.01M429.9 53.2h.01M432.7 55.3h.01M446.5 55.6h.01M447.1 56.0h.01M434.8 55.1h.01M443.5 50.9h.01M434.5 52.6h.01M446.2 55.3h.01M440.7 53.9h.01M440.8 56.3h.01M436.1 50.1h.01M450.0 51.2h.01M438.0 51.3h.01M428.6 54.6h.01M428.0 51.9h.01M432.1 51.2h.01M433.6 54.8h.01M442.1 52.6h.01M446.2 50.6h.01M446.6 55.0h.01M445.2 53.5h.01M426.9 55.2h.01M426.5 55.4h.01M433.2 52.0h.01M441.2 52.9h.01M429.6 53.4h.01M430.7 55.7h.01M440.2 53.7h.01M440.9 56.8h.01M433.5 52.2h.01M435.7 53.8h.01M445.0 57.5h.01M446.4 49.7h.01M435.5 50.1h.01M443.1 55.8h.01M439.6 55.9h.01M444.4 56.6h.01M440.7 56.2h.01M446.2 56.7h.01M429.2 52.3h.01M434.1 53.8h.01M448.6 55.4h.01M427.0 50.3h.01M438.3 50.1h.01M439.0 52.1h.01M443.0 56.6h.01M445.3 55.9h.01M451.2 50.0h.01M434.5 52.1h.01M446.4 52.2h.01M433.0 54.0h.01M430.4 54.3h.01M438.3 53.8h.01M426.6 51.1h.01M443.9 56.9h.01M449.4 56.7h.01M435.0 50.7h.01M427.8 53.3h.01M440.3 56.8h.01M445.7 54.7h.01M445.2 55.1h.01M440.5 52.5h.01M446.8 57.8h.01M436.4 50.6h.01M444.3 56.4h.01M431.8 58.8h.01M436.8 51.6h.01M450.4 57.6h.01M433.7 56.1h.01M430.4 51.9h.01M438.8 54.2h.01M434.9 57.8h.01M441.2 52.5h.01M437.8 52.5h.01M438.5 45.6h.01M443.6 49.0h.01M445.1 52.7h.01M449.5 53.4h.01M432.9 55.5h.01M434.7 56.3h.01M434.1 59.4h.01M441.8 55.8h.01M429.7 62.1h.01M443.8 56.0h.01M427.8 57.7h.01M434.3 51.5h.01M435.2 55.1h.01M445.5 56.6h.01M448.6 56.6h.01M429.9 52.5h.01M445.0 53.7h.01M449.2 50.2h.01M448.0 54.8h.01M432.4 50.8h.01M439.9 56.6h.01M441.4 54.6h.01M430.2 55.9h.01M433.5 55.5h.01M434.7 55.1h.01M443.0 56.2h.01M436.4 54.0h.01M445.8 49.2h.01M429.3 57.5h.01M441.4 51.7h.01M438.6 56.5h.01M448.1 55.4h.01M438.0 54.9h.01M442.8 54.3h.01M447.3 54.6h.01M444.9 54.4h.01M427.1 53.9h.01M431.8 53.5h.01M439.0 54.7h.01M441.8 55.6h.01M439.6 52.6h.01M442.3 54.5h.01M439.8 50.0h.01M445.4 51.5h.01M444.0 48.9h.01M436.6 53.1h.01M426.9 54.9h.01M446.2 55.8h.01M442.1 50.0h.01M434.0 56.1h.01M435.4 50.9h.01M429.9 52.6h.01M429.8 52.4h.01M443.8 58.3h.01M440.3 54.3h.01M443.1 59.8h.01M437.7 56.6h.01M440.2 53.1h.01M450.2 55.0h.01M441.1 57.7h.01M436.4 51.4h.01M440.2 52.4h.01M443.4 53.7h.01M427.3 52.9h.01M431.0 53.1h.01M432.6 58.7h.01M448.1 54.3h.01M437.2 52.9h.01M434.8 52.7h.01M435.6 50.0h.01M435.4 56.1h.01M433.3 52.0h.01M430.7 64.0h.01M451.0 55.1h.01M428.2 52.2h.01M445.6 50.4h.01M441.6 52.5h.01M429.2 55.0h.01M428.8 52.2h.01M449.0 55.6h.01M436.4 55.8h.01M430.8 55.4h.01M429.7 55.3h.01M429.2 53.9h.01M444.4 52.0h.01M428.5 50.3h.01M444.4 49.2h.01M433.1 52.5h.01M431.4 55.7h.01M439.9 53.8h.01M445.4 50.9h.01M443.2 56.4h.01M427.7 51.0h.01M433.4 50.5h.01M430.1 51.0h.01M433.1 51.9h.01M437.6 53.6h.01M428.6 50.3h.01M447.9 49.2h.01M449.9 55.0h.01M434.3 54.5h.01M451.1 55.1h.01M434.3 55.9h.01M432.4 54.0h.01M449.4 62.4h.01M433.9 52.8h.01M445.0 53.5h.01M443.6 60.1h.01M444.3 55.7h.01M445.7 53.0h.01M439.7 53.7h.01M441.8 48.1h.01M428.7 57.0h.01M428.2 52.7h.01M436.7 55.9h.01M450.2 60.2h.01M433.2 57.5h.01M431.4 55.0h.01M449.7 55.6h.01M426.1 54.4h.01M441.0 61.9h.01M426.5 44.7h.01M432.6 51.6h.01M447.9 49.9h.01M431.2 55.8h.01M448.1 52.9h.01M444.7 54.3h.01M437.0 63.1h.01M427.7 55.1h.01M427.7 57.9h.01M436.7 51.9h.01M434.9 50.5h.01M438.8 48.9h.01M435.5 60.7h.01M431.2 48.5h.01M426.4 51.6h.01M435.6 64.9h.01M448.2 55.7h.01M433.0 54.0h.01M449.5 52.7h.01M448.5 48.3h.01M444.2 55.7h.01M436.9 58.8h.01M441.2 49.6h.01M436.8 51.5h.01M433.3 61.8h.01M434.3 52.1h.01M432.5 57.5h.01M431.2 64.8h.01M429.0 49.7h.01M432.4 53.5h.01M447.9 49.5h.01M444.0 43.1h.01M450.2 60.2h.01M427.5 56.8h.01M443.7 52.5h.01M434.5 56.0h.01M437.7 51.0h.01M451.3 46.9h.01M437.3 50.8h.01M449.3 50.2h.01M426.6 49.0h.01M445.5 59.0h.01M435.4 49.7h.01M442.7 48.5h.01M435.6 54.7h.01M446.5 56.0h.01M433.0 61.8h.01M447.6 55.1h.01M440.1 47.2h.01M444.9 49.5h.01M432.0 58.4h.01M443.4 50.6h.01M439.9 56.1h.01M431.8 62.8h.01M439.5 46.7h.01M445.9 46.5h.01M441.5 52.8h.01M436.5 53.6h.01M447.2 58.1h.01M432.9 46.0h.01M432.7 56.7h.01M431.8 52.6h.01M448.1 45.6h.01M428.0 52.6h.01M436.7 56.1h.01M439.0 62.4h.01M435.1 50.7h.01M430.2 57.2h.01M432.9 47.3h.01M437.3 58.9h.01M436.6 54.2h.01M447.9 61.4h.01M433.9 47.2h.01M438.3 48.2h.01M450.1 45.5h.01M436.0 62.4h.01M444.5 51.5h.01M447.2 44.9h.01M427.7 50.1h.01M433.5 57.8h.01M430.8 62.5h.01M440.8 63.0h.01M445.8 62.0h.01M435.8 45.0h.01M444.8 45.5h.01M483.4 26.6h.01M486.5 19.2h.01M476.0 22.3h.01M468.9 22.5h.01M475.4 21.5h.01M474.8 22.3h.01M485.4 26.6h.01M482.6 26.2h.01M471.5 22.0h.01M476.4 19.8h.01M473.5 24.6h.01M468.1 24.8h.01M474.7 20.5h.01M483.2 24.1h.01M473.7 24.7h.01M472.9 25.3h.01M485.4 22.3h.01M466.1 24.9h.01M471.9 23.1h.01M468.9 25.8h.01M482.2 24.2h.01M476.5 25.2h.01M473.4 23.6h.01M476.1 22.9h.01M471.8 24.2h.01M484.0 25.8h.01M489.7 22.6h.01M480.4 24.5h.01M471.1 29.9h.01M469.1 21.9h.01M481.6 20.2h.01M488.8 21.1h.01M469.7 22.8h.01M486.3 23.6h.01M467.7 17.8h.01M477.5 18.5h.01M472.8 25.6h.01M469.6 19.9h.01M471.4 25.3h.01M475.6 26.7h.01M481.6 15.6h.01M472.7 25.0h.01M481.4 23.7h.01M480.2 22.7h.01M482.1 24.6h.01M483.5 23.4h.01M479.2 25.0h.01M482.8 28.3h.01M469.2 24.4h.01M468.2 20.4h.01M486.8 27.2h.01M484.4 26.5h.01M466.1 27.3h.01M472.1 24.6h.01M466.4 25.9h.01M476.4 28.7h.01M478.0 23.4h.01M480.9 22.0h.01M478.8 27.3h.01M473.4 22.7h.01M474.4 26.6h.01M466.9 22.2h.01M466.9 22.4h.01M485.8 24.4h.01M464.7 24.4h.01M467.1 21.7h.01M487.8 27.8h.01M477.3 22.5h.01M489.5 25.4h.01M475.4 21.3h.01M480.8 22.1h.01M477.0 22.2h.01M466.7 24.1h.01M476.7 24.1h.01M477.3 24.2h.01M468.7 23.7h.01M481.7 26.0h.01M466.1 26.0h.01M468.9 22.5h.01M480.4 24.0h.01M468.1 24.8h.01M468.1 25.5h.01M466.0 25.0h.01M478.3 22.8h.01M469.8 22.8h.01M471.7 23.8h.01M466.6 24.9h.01M473.6 20.9h.01M472.2 21.1h.01M467.4 22.6h.01M481.3 23.9h.01M473.2 22.0h.01M471.5 22.5h.01M486.8 21.6h.01M467.6 25.0h.01M480.3 18.6h.01M469.9 23.6h.01M477.7 21.9h.01M488.2 23.7h.01M471.0 24.1h.01M486.9 16.0h.01M472.3 26.5h.01M478.8 25.5h.01M466.5 27.7h.01M484.8 25.6h.01M485.3 26.0h.01M483.9 25.0h.01M477.1 27.7h.01M488.6 20.2h.01M470.8 23.4h.01M483.5 21.3h.01M484.9 25.9h.01M478.4 24.3h.01M466.0 27.8h.01M481.5 24.0h.01M476.1 23.2h.01M486.8 23.2h.01M488.6 21.7h.01M467.6 18.4h.01M481.9 23.6h.01M483.6 22.5h.01M482.2 22.5h.01M465.3 20.7h.01M483.4 23.9h.01M467.8 21.0h.01M486.9 24.3h.01M480.6 23.0h.01M466.0 22.8h.01M477.3 19.6h.01M480.2 24.5h.01M478.5 25.9h.01M477.3 23.3h.01M468.0 22.1h.01M477.1 25.2h.01M478.7 25.6h.01M467.0 22.5h.01M470.3 30.6h.01M483.3 26.8h.01M478.4 27.5h.01M472.9 24.7h.01M466.3 24.7h.01M472.5 21.1h.01M483.4 23.0h.01M472.3 23.8h.01M488.4 25.4h.01M470.7 22.3h.01M468.9 21.5h.01M476.1 26.6h.01M488.6 23.9h.01M488.8 26.1h.01M473.2 23.9h.01M468.5 22.1h.01M474.8 23.6h.01M470.4 17.3h.01M489.1 26.1h.01M489.6 25.1h.01M481.9 26.6h.01M483.6 23.1h.01M482.9 28.7h.01M483.0 26.8h.01M488.6 19.1h.01M481.7 19.1h.01M479.4 24.3h.01M472.2 20.1h.01M481.2 23.2h.01M487.9 23.2h.01M469.0 22.8h.01M489.7 27.5h.01M467.9 25.1h.01M479.1 25.3h.01M485.9 24.2h.01M489.2 31.3h.01M470.8 27.0h.01M475.3 21.8h.01M471.6 25.1h.01M466.8 21.7h.01M484.5 23.2h.01M473.1 23.4h.01M481.0 20.0h.01M467.4 18.8h.01M468.7 20.5h.01M486.4 25.0h.01M483.7 16.5h.01M486.6 25.2h.01M485.1 18.1h.01M474.9 21.6h.01M488.5 22.2h.01M474.6 25.5h.01M471.8 23.6h.01M471.1 20.8h.01M480.8 22.1h.01M477.5 24.2h.01M472.9 26.4h.01M472.6 24.3h.01M471.9 23.3h.01M468.0 22.9h.01M487.0 27.7h.01M477.8 21.5h.01M488.4 22.4h.01M474.0 24.5h.01M465.4 26.9h.01M477.7 19.2h.01M485.4 26.1h.01M469.3 26.6h.01M485.4 24.3h.01M478.4 18.7h.01M471.4 21.7h.01M488.3 23.2h.01M472.6 24.3h.01M470.3 20.4h.01M485.1 23.0h.01M486.2 25.4h.01M475.1 22.2h.01M482.9 22.8h.01M476.3 22.4h.01M488.6 19.9h.01M475.5 22.7h.01M474.1 23.0h.01M467.9 25.5h.01M485.0 21.5h.01M484.7 20.2h.01M473.0 22.3h.01M487.6 21.3h.01M470.7 25.0h.01M472.2 22.1h.01M486.4 19.5h.01M469.7 25.1h.01M482.4 23.4h.01M481.5 24.0h.01M472.4 24.6h.01M467.3 26.3h.01M488.1 21.2h.01M480.8 25.2h.01M483.6 23.8h.01M472.9 23.7h.01M467.1 23.3h.01M471.1 22.4h.01M471.1 24.1h.01M465.8 23.7h.01M481.2 25.3h.01M473.0 27.4h.01M480.4 21.0h.01M469.3 28.6h.01M473.9 26.4h.01M465.9 20.6h.01M488.2 23.2h.01M480.3 23.6h.01M475.1 26.6h.01M479.0 21.1h.01M483.7 28.0h.01M485.4 20.8h.01M484.4 22.6h.01M475.9 22.0h.01M477.2 20.4h.01M478.1 20.7h.01M473.7 22.1h.01M478.0 22.9h.01M475.7 22.0h.01M480.9 21.2h.01M487.2 16.9h.01M486.9 22.9h.01M482.3 28.4h.01M482.2 27.9h.01M475.5 26.6h.01M484.2 22.6h.01M488.9 24.9h.01M467.4 22.2h.01M474.4 22.4h.01M488.9 24.0h.01M464.9 26.2h.01M477.6 22.3h.01M482.9 21.9h.01M485.8 23.5h.01M479.5 19.7h.01M467.9 25.8h.01M466.8 26.2h.01M477.1 26.7h.01M481.3 25.6h.01M466.5 22.1h.01M470.0 23.0h.01M469.3 21.2h.01M477.7 24.4h.01M483.8 29.2h.01M477.3 21.1h.01M470.7 25.3h.01M488.3 27.2h.01M470.3 20.9h.01M471.4 29.1h.01M487.9 21.9h.01M488.6 23.3h.01M474.6 24.7h.01M473.8 26.0h.01M473.3 25.7h.01M464.7 23.0h.01M465.8 21.9h.01M467.1 17.6h.01M477.2 22.3h.01M468.9 26.9h.01M464.7 21.6h.01M480.8 25.2h.01M472.6 25.4h.01M477.8 24.0h.01M485.0 22.2h.01M479.7 22.2h.01M470.9 23.5h.01M484.1 19.1h.01M471.7 27.2h.01M485.8 20.9h.01M472.7 22.0h.01M473.6 22.0h.01M475.6 22.9h.01M470.2 24.6h.01M488.0 26.7h.01M486.6 24.2h.01M472.1 27.7h.01M478.8 22.7h.01M478.9 25.4h.01M474.2 25.7h.01M480.1 24.0h.01M475.9 25.4h.01M470.0 21.0h.01M479.1 27.1h.01M483.2 25.7h.01M482.7 24.1h.01M476.3 22.7h.01M471.2 25.8h.01M466.2 20.8h.01M486.5 25.5h.01M473.7 26.0h.01M480.2 30.1h.01M467.7 23.4h.01M466.5 27.2h.01M484.5 25.3h.01M486.6 19.5h.01M479.1 20.3h.01M480.0 22.3h.01M489.5 26.7h.01M466.4 27.4h.01M470.1 23.0h.01M475.2 24.8h.01M487.9 24.2h.01M467.3 17.2h.01M479.8 26.5h.01M465.2 27.3h.01M465.2 17.8h.01M476.2 21.2h.01M482.7 23.4h.01M473.0 23.4h.01M467.8 26.4h.01M472.3 26.7h.01M483.9 22.2h.01M487.8 25.4h.01M486.2 22.0h.01M477.0 22.8h.01M479.5 24.3h.01M467.8 25.1h.01M473.2 22.0h.01M485.7 28.6h.01M488.4 24.2h.01M479.6 23.7h.01M477.4 25.6h.01M489.1 22.0h.01M473.0 24.5h.01M471.4 17.3h.01M464.8 19.2h.01M477.7 22.7h.01M467.2 22.4h.01M471.4 22.7h.01M479.0 22.0h.01M471.9 25.2h.01M481.6 26.8h.01M474.2 22.3h.01M477.7 26.3h.01M478.8 24.6h.01M467.4 20.5h.01M487.0 20.1h.01M468.4 23.8h.01M483.7 26.4h.01M473.5 21.2h.01M468.3 18.2h.01M471.3 26.2h.01M464.8 26.6h.01M477.6 23.1h.01M487.1 26.5h.01M479.7 28.9h.01M472.0 21.4h.01M485.9 22.6h.01M471.9 22.7h.01M466.3 26.5h.01M477.3 21.4h.01M486.2 22.8h.01M471.6 27.0h.01M489.3 26.3h.01M471.8 26.4h.01M484.2 21.3h.01M474.2 24.8h.01M468.0 22.2h.01M489.5 26.1h.01M483.0 25.0h.01M474.0 25.5h.01M473.2 23.2h.01M472.3 24.1h.01M483.5 24.7h.01M479.7 23.1h.01M487.2 24.5h.01M473.5 21.2h.01M471.3 20.6h.01M471.7 19.3h.01M481.4 23.3h.01M477.2 25.9h.01M470.6 24.8h.01M476.1 18.6h.01M468.8 24.7h.01M488.5 23.8h.01M477.1 23.3h.01M474.3 24.3h.01M471.2 25.2h.01M486.7 27.2h.01M488.5 26.9h.01M466.4 28.6h.01M466.5 25.2h.01M479.2 22.2h.01M480.2 27.2h.01M485.0 20.6h.01M474.3 25.9h.01M470.8 21.1h.01M476.7 22.3h.01M486.2 26.9h.01M476.7 22.1h.01M474.2 26.5h.01M475.4 25.4h.01M476.8 23.4h.01M484.8 25.7h.01M479.5 25.3h.01M469.3 24.1h.01M472.2 22.1h.01M467.0 25.9h.01M471.8 22.9h.01M488.6 23.6h.01M473.4 24.9h.01M475.7 23.5h.01M471.1 24.4h.01M476.5 24.5h.01M482.8 24.5h.01M489.7 24.1h.01M478.3 27.3h.01M487.8 22.5h.01M469.9 22.7h.01M485.7 20.5h.01M464.9 17.8h.01M472.0 25.5h.01M474.0 25.0h.01M477.1 27.4h.01M481.1 20.1h.01M487.7 21.8h.01M485.3 22.3h.01M481.9 28.7h.01M470.6 26.1h.01M468.9 23.3h.01M473.2 23.7h.01M470.8 24.5h.01M474.5 20.9h.01M481.9 24.6h.01M470.7 21.0h.01M468.1 24.0h.01M487.6 25.5h.01M464.9 24.4h.01M477.7 21.9h.01M480.9 23.0h.01M484.4 25.7h.01M471.0 22.4h.01M475.2 20.2h.01M484.4 23.0h.01M473.3 22.4h.01M480.3 23.2h.01M475.6 23.7h.01M470.0 22.8h.01M475.6 22.8h.01M484.2 26.0h.01M474.3 25.1h.01M482.0 26.1h.01M467.4 23.8h.01M469.8 22.7h.01M484.4 24.4h.01M486.3 19.9h.01M467.2 20.8h.01M482.5 25.8h.01M481.1 22.4h.01M472.7 21.9h.01M478.9 20.8h.01M464.8 24.7h.01M472.9 20.6h.01M488.0 26.7h.01M480.8 24.1h.01M481.9 19.1h.01M479.4 22.3h.01M475.2 21.0h.01M489.6 25.0h.01M475.8 24.9h.01M474.8 22.3h.01M472.1 21.9h.01M481.5 24.7h.01M471.5 22.0h.01M476.2 27.0h.01M469.4 21.9h.01M475.0 24.4h.01M465.0 18.5h.01M488.5 24.5h.01M472.4 22.0h.01M488.4 24.2h.01M470.8 26.4h.01M478.2 23.1h.01M487.3 17.2h.01M473.3 18.3h.01M477.0 23.7h.01M476.4 21.2h.01M487.9 20.6h.01M474.4 26.1h.01M485.3 22.9h.01M484.9 25.9h.01M487.7 25.8h.01M480.9 22.5h.01M469.3 23.8h.01M467.6 20.5h.01M488.1 24.5h.01M488.1 23.4h.01M475.3 27.5h.01M469.1 25.6h.01M484.3 23.0h.01M475.5 21.7h.01M471.1 22.9h.01M489.4 23.4h.01M478.5 25.4h.01M468.5 26.0h.01M465.0 20.4h.01M487.6 20.8h.01M476.1 24.3h.01M465.0 20.4h.01M475.8 23.2h.01M487.0 18.9h.01M477.5 22.6h.01M467.3 22.3h.01M479.9 22.6h.01M487.1 21.8h.01M488.8 24.6h.01M467.9 25.7h.01M470.8 25.3h.01M480.0 22.7h.01M472.0 22.6h.01M485.5 21.7h.01M487.3 21.6h.01M486.7 23.0h.01M478.9 23.0h.01M469.0 22.9h.01M478.3 24.0h.01M470.0 25.6h.01M474.8 21.8h.01M483.2 22.8h.01M483.0 24.8h.01M472.1 23.9h.01M485.1 21.4h.01M483.1 20.4h.01M475.5 25.1h.01M473.5 20.7h.01M475.2 24.5h.01M481.4 20.9h.01M489.2 27.9h.01M464.5 20.8h.01M488.3 28.0h.01M486.6 25.4h.01M478.9 27.0h.01M465.4 26.6h.01M467.0 24.8h.01M484.3 22.8h.01M477.6 29.7h.01M475.2 22.5h.01M481.5 24.0h.01M471.4 20.2h.01M472.7 23.5h.01M481.8 25.0h.01M485.1 21.8h.01M488.8 23.9h.01M488.7 22.8h.01M483.1 22.7h.01M487.6 25.1h.01M467.3 25.8h.01M487.8 21.7h.01M464.6 19.2h.01M484.0 24.7h.01M477.6 20.8h.01M479.7 22.4h.01M481.7 21.5h.01M483.6 26.1h.01M467.8 29.1h.01M482.1 22.1h.01M474.0 29.0h.01M484.8 24.0h.01M479.0 22.7h.01M476.7 26.4h.01M474.9 28.4h.01M465.4 23.0h.01M489.3 22.7h.01M470.3 28.2h.01M468.4 25.8h.01M479.7 16.5h.01M469.6 23.1h.01M487.6 21.5h.01M486.9 22.1h.01M481.2 23.8h.01M475.2 22.3h.01M468.3 22.5h.01M470.0 28.8h.01M467.3 19.4h.01M467.9 24.0h.01M483.2 25.0h.01M468.9 19.9h.01M467.9 20.7h.01M480.0 20.7h.01M477.0 25.7h.01M476.0 20.8h.01M476.8 24.8h.01M466.7 20.5h.01M480.0 20.3h.01M467.5 24.7h.01M478.8 25.6h.01M468.5 20.1h.01M486.9 20.9h.01M474.3 24.1h.01M485.3 21.0h.01M465.1 20.5h.01M488.2 20.7h.01M473.9 24.2h.01M489.8 16.8h.01M486.4 27.9h.01M470.1 27.5h.01M467.3 26.7h.01M470.9 22.9h.01M473.8 21.8h.01M472.5 24.8h.01M488.9 20.7h.01M479.0 28.9h.01M483.7 21.9h.01M478.8 26.5h.01M478.7 25.5h.01M467.9 22.3h.01M479.4 22.9h.01M486.7 21.4h.01M474.9 23.7h.01M486.7 25.0h.01M476.6 23.5h.01M480.0 22.6h.01M465.3 23.5h.01M482.6 26.6h.01M484.7 25.8h.01M484.5 24.7h.01M486.9 21.9h.01M475.5 22.3h.01M488.8 24.7h.01M472.6 22.5h.01M485.1 21.7h.01M480.0 27.0h.01M489.8 23.7h.01M477.3 24.1h.01M478.5 22.0h.01M472.2 24.2h.01M474.6 25.5h.01M489.5 24.2h.01M483.4 19.7h.01M480.9 22.2h.01M489.5 24.8h.01M481.2 24.0h.01M468.1 26.0h.01M466.2 22.7h.01M465.1 23.3h.01M487.8 25.8h.01M487.0 23.3h.01M487.6 25.6h.01M467.3 19.0h.01M485.1 21.0h.01M473.9 25.8h.01M468.3 25.5h.01M474.2 25.4h.01M467.3 25.8h.01M471.4 25.8h.01M468.3 20.6h.01M475.6 27.5h.01M472.0 25.6h.01M476.8 20.4h.01M467.7 20.0h.01M485.5 24.4h.01M485.8 21.7h.01M466.8 24.7h.01M487.3 22.6h.01M466.5 19.6h.01M466.8 21.2h.01M475.1 22.4h.01M489.1 23.3h.01M473.1 25.4h.01M479.5 21.7h.01M473.1 24.6h.01M488.5 22.8h.01M473.4 23.0h.01M474.1 17.5h.01M481.0 22.1h.01M471.8 19.7h.01M471.6 25.1h.01M467.4 26.1h.01M477.6 24.5h.01M481.6 28.6h.01M475.0 24.0h.01M487.4 25.5h.01M471.0 22.5h.01M481.9 24.3h.01M480.5 20.8h.01M479.2 22.6h.01M470.1 26.0h.01M483.8 23.3h.01M481.7 22.5h.01M489.6 23.1h.01M482.5 24.6h.01M471.3 26.9h.01M468.0 19.5h.01M480.7 23.3h.01M489.3 23.0h.01M467.2 22.7h.01M472.0 23.3h.01M465.5 24.7h.01M468.4 26.4h.01M465.7 19.0h.01M472.5 20.3h.01M469.4 23.6h.01M464.9 19.6h.01M466.7 24.5h.01M481.6 21.2h.01M473.4 23.0h.01M468.7 20.4h.01M486.5 21.0h.01M475.4 30.3h.01M489.2 22.5h.01M483.2 27.0h.01M473.2 23.2h.01M476.5 24.9h.01M478.4 21.3h.01M479.4 24.6h.01M485.0 22.0h.01M466.7 16.0h.01M488.0 16.5h.01M466.4 23.0h.01M484.1 25.0h.01M485.6 21.3h.01M467.9 20.5h.01M487.7 21.8h.01M483.0 27.5h.01M477.4 18.5h.01M481.3 24.9h.01M470.8 26.2h.01M479.6 19.8h.01M478.0 20.9h.01M484.1 22.2h.01M476.9 21.5h.01M468.6 25.7h.01M481.3 23.5h.01M482.0 21.9h.01M472.9 24.2h.01M475.2 26.4h.01M468.5 22.3h.01M489.6 21.1h.01M465.1 25.7h.01M474.9 27.7h.01M481.5 27.3h.01M481.3 25.4h.01M478.4 22.9h.01M479.8 25.5h.01M482.2 24.8h.01M481.6 25.0h.01M475.6 23.3h.01M479.2 26.1h.01M488.8 25.7h.01M487.4 20.2h.01M467.0 25.3h.01M474.5 20.9h.01M475.9 23.8h.01M469.0 23.1h.01M485.4 24.7h.01M467.4 22.2h.01M468.0 22.6h.01M479.6 22.2h.01M472.8 22.2h.01M466.9 19.8h.01M482.2 24.8h.01M486.7 22.0h.01M471.2 24.4h.01M488.3 23.5h.01M470.4 24.6h.01M469.0 25.0h.01M482.4 20.2h.01M475.6 23.2h.01M487.1 24.0h.01M476.3 21.7h.01M467.3 21.8h.01M465.2 24.5h.01M465.2 26.8h.01M481.7 25.0h.01M464.6 25.3h.01M486.0 24.4h.01M477.7 28.5h.01M474.1 23.7h.01M478.2 25.9h.01M481.5 32.2h.01M471.1 24.5h.01M488.0 23.5h.01M469.0 19.6h.01M467.7 19.4h.01M480.4 29.1h.01M483.0 23.7h.01M475.5 21.2h.01M478.2 22.3h.01M475.4 20.7h.01M473.3 23.5h.01M484.9 21.9h.01M487.6 25.1h.01M471.1 27.4h.01M488.8 24.8h.01M480.2 23.7h.01M473.8 23.7h.01M484.3 27.1h.01M489.1 20.2h.01M478.0 21.1h.01M489.3 22.2h.01M487.9 20.5h.01M477.3 24.9h.01M465.0 22.6h.01M475.1 21.1h.01M478.8 25.0h.01M466.1 23.4h.01M465.9 24.6h.01M465.9 23.6h.01M466.2 22.2h.01M488.7 20.9h.01M488.1 24.8h.01M467.4 21.2h.01M483.5 26.2h.01M475.6 24.2h.01M468.1 23.5h.01M486.3 21.5h.01M481.5 27.8h.01M484.0 22.9h.01M470.0 25.0h.01M478.3 21.9h.01M484.3 26.6h.01M482.9 24.7h.01M485.8 26.3h.01M481.8 25.7h.01M465.2 23.3h.01M470.0 21.4h.01M482.8 23.8h.01M480.2 22.0h.01M484.6 22.7h.01M479.0 28.0h.01M481.1 26.1h.01M488.0 24.5h.01M467.0 25.4h.01M466.3 26.0h.01M489.0 24.3h.01M483.3 23.6h.01M473.1 24.1h.01M480.6 25.0h.01M481.6 29.0h.01M465.5 20.9h.01M486.7 23.9h.01M466.4 22.4h.01M487.5 29.9h.01M467.2 22.5h.01M470.4 27.0h.01M474.1 25.4h.01M483.2 25.1h.01M479.2 26.6h.01M487.1 24.9h.01M472.0 23.1h.01M467.2 28.7h.01M484.4 20.9h.01M489.0 19.1h.01M485.7 20.7h.01M470.1 27.1h.01M476.7 21.1h.01M465.6 24.5h.01M488.3 28.1h.01M472.8 27.1h.01M472.6 25.9h.01M480.6 28.9h.01M468.5 24.3h.01M483.7 28.8h.01M466.9 25.0h.01M467.0 30.8h.01M471.2 28.9h.01M466.1 24.6h.01M479.6 29.3h.01M479.7 28.3h.01M468.3 28.0h.01M468.4 25.8h.01M479.6 19.3h.01M483.4 22.2h.01M475.8 28.3h.01M481.5 30.0h.01M474.3 17.7h.01M485.1 20.4h.01M477.6 15.5h.01M475.9 18.5h.01M483.1 27.0h.01M470.4 21.6h.01M485.2 26.5h.01M475.7 30.5h.01M473.7 16.8h.01M474.2 24.9h.01M480.2 25.7h.01M481.2 26.3h.01M470.4 28.9h.01M477.9 29.5h.01M479.2 26.9h.01M477.9 20.3h.01M468.3 29.5h.01M469.1 33.8h.01M482.6 19.7h.01M468.6 24.0h.01M469.9 26.1h.01M477.0 23.0h.01M484.5 25.6h.01M472.2 25.8h.01M479.5 29.4h.01M468.3 23.1h.01M466.4 23.9h.01M487.7 33.0h.01M482.1 29.3h.01M483.8 22.6h.01M478.9 19.3h.01M472.1 24.3h.01M474.2 26.9h.01M475.5 23.5h.01M464.6 18.5h.01M479.4 19.0h.01M470.9 21.4h.01M478.4 24.4h.01M489.1 25.5h.01M483.6 29.2h.01M485.6 21.1h.01M475.6 20.5h.01M474.5 16.6h.01M488.6 19.6h.01M489.8 23.0h.01M469.8 22.7h.01M477.8 23.2h.01M487.4 24.9h.01M483.6 22.3h.01M481.8 17.7h.01M481.5 24.8h.01M474.6 25.5h.01M481.8 20.5h.01M465.5 38.3h.01M466.2 12.9h.01M464.9 17.2h.01M466.7 21.4h.01M483.7 21.4h.01M485.7 19.8h.01M469.9 24.9h.01M483.7 28.8h.01M468.4 26.3h.01M470.8 24.8h.01M485.1 30.8h.01M486.8 17.2h.01M470.8 23.0h.01M465.4 24.2h.01M487.0 22.4h.01M488.7 23.3h.01M476.4 22.9h.01M465.2 21.0h.01M474.6 18.6h.01M466.3 19.1h.01M469.1 22.4h.01M486.8 25.6h.01M469.6 26.0h.01M471.2 31.0h.01M479.2 31.5h.01M488.2 34.0h.01M473.2 15.0h.01M482.2 15.5h.01M468.2 30.5h.01M513.7 79.9h.01M517.0 77.4h.01M510.2 58.9h.01M511.6 82.1h.01M527.9 94.0h.01M521.2 92.3h.01M525.0 76.9h.01M512.7 82.0h.01M504.5 80.8h.01M505.4 94.2h.01M519.6 93.6h.01M504.7 72.2h.01M523.5 72.1h.01M524.6 74.9h.01M523.7 73.7h.01M514.5 92.5h.01M523.3 62.1h.01M521.5 69.1h.01M524.2 66.5h.01M525.6 73.0h.01M512.1 84.4h.01M514.6 69.4h.01M512.1 86.0h.01M513.2 93.5h.01M528.5 80.4h.01M505.5 89.6h.01M508.7 77.0h.01M516.0 82.1h.01M507.8 76.5h.01M511.6 88.8h.01M503.6 81.9h.01M516.4 84.8h.01M519.7 86.9h.01M521.6 88.1h.01M505.7 70.6h.01M527.7 81.4h.01M528.4 72.7h.01M510.2 75.6h.01M507.2 79.0h.01M527.6 84.3h.01M516.7 78.8h.01M523.1 77.0h.01M518.4 90.5h.01M512.2 83.1h.01M515.3 60.4h.01M520.8 82.5h.01M515.4 75.1h.01M523.7 84.9h.01M508.2 85.8h.01M526.0 93.8h.01M509.5 76.0h.01M507.4 86.7h.01M516.8 77.6h.01M510.2 73.1h.01M527.1 65.4h.01M518.4 81.5h.01M528.3 91.9h.01M515.1 77.2h.01M517.3 88.4h.01M518.8 79.8h.01M527.4 86.3h.01M510.9 77.7h.01M524.5 83.9h.01M516.4 70.3h.01M524.4 85.6h.01M512.5 95.6h.01M512.3 88.7h.01M503.6 74.4h.01M514.0 62.6h.01M516.5 80.9h.01M528.3 69.2h.01M521.5 78.1h.01M507.8 87.9h.01M523.4 59.2h.01M516.2 76.8h.01M505.8 77.7h.01M518.9 85.6h.01M516.6 82.8h.01M505.7 94.1h.01M517.2 83.0h.01M527.9 85.4h.01M513.6 61.4h.01M512.7 79.1h.01M528.8 76.4h.01M504.1 78.7h.01M509.7 88.3h.01M513.8 68.4h.01M506.3 56.5h.01M513.4 95.3h.01M512.5 77.7h.01M525.4 75.7h.01M511.0 91.8h.01M510.2 86.3h.01M509.9 81.0h.01M506.4 82.0h.01M515.4 85.8h.01M524.5 71.2h.01M505.9 80.3h.01M508.0 97.6h.01M527.6 84.4h.01M508.0 82.1h.01M511.3 97.2h.01M528.1 81.6h.01M525.9 94.0h.01M514.7 82.5h.01M521.7 77.7h.01M516.9 83.1h.01M524.0 82.2h.01M514.0 67.4h.01M520.2 97.8h.01M505.0 84.2h.01M505.9 98.2h.01M513.2 73.1h.01M516.4 76.3h.01M519.5 68.5h.01M523.0 78.1h.01M503.7 85.3h.01M522.0 98.1h.01M520.6 75.6h.01M515.4 76.7h.01M516.6 88.3h.01M517.0 84.2h.01M516.5 73.8h.01M522.9 75.5h.01M504.4 73.7h.01M524.2 90.3h.01M518.0 74.5h.01M528.8 76.6h.01M510.7 90.0h.01M513.3 74.4h.01M512.7 88.8h.01M518.2 66.9h.01M528.1 73.8h.01M503.5 91.8h.01M522.2 84.9h.01M515.6 71.4h.01M508.2 69.1h.01M518.6 64.9h.01M522.1 82.5h.01M512.3 77.2h.01M512.6 82.1h.01M507.7 78.7h.01M515.9 98.2h.01M508.4 90.5h.01M523.8 65.8h.01M511.7 81.7h.01M526.7 68.4h.01M504.9 81.4h.01M504.5 76.8h.01M504.1 81.5h.01M512.4 76.3h.01M507.4 60.7h.01M517.2 84.7h.01M514.4 63.0h.01M514.3 71.1h.01M524.6 72.7h.01M527.5 80.8h.01M520.1 68.4h.01M512.1 77.8h.01M518.8 80.0h.01M518.8 96.5h.01M515.2 73.4h.01M519.9 81.6h.01M523.6 85.2h.01M504.8 77.8h.01M507.4 81.1h.01M526.8 88.0h.01M516.7 73.5h.01M522.2 53.7h.01M522.2 76.8h.01M516.5 82.0h.01M506.6 84.0h.01M523.5 83.8h.01M525.6 89.9h.01M506.3 80.0h.01M506.2 74.1h.01M526.6 69.3h.01M507.0 67.7h.01M514.3 87.9h.01M506.7 73.9h.01M505.6 72.1h.01M504.9 92.7h.01M512.4 67.5h.01M507.3 87.0h.01M526.9 70.2h.01M524.1 74.5h.01M526.8 74.5h.01M520.5 82.6h.01M523.8 76.0h.01M520.7 87.5h.01M507.7 73.6h.01M517.4 95.9h.01M504.3 75.7h.01M518.5 62.8h.01M506.2 70.4h.01M504.8 70.5h.01M514.2 81.6h.01M510.8 66.7h.01M524.7 89.5h.01M519.7 70.9h.01M508.4 74.5h.01M515.7 88.7h.01M523.9 59.9h.01M527.1 98.1h.01M505.1 71.1h.01M515.6 61.6h.01M512.2 92.7h.01M520.3 77.1h.01M513.7 62.9h.01M526.3 84.7h.01M520.5 93.7h.01M504.1 93.7h.01M507.3 84.5h.01M525.7 70.0h.01M506.9 74.2h.01M521.6 86.6h.01M516.4 83.1h.01M528.0 76.4h.01M506.8 92.3h.01M514.7 67.4h.01M511.6 94.0h.01M514.8 69.1h.01M510.7 74.5h.01M526.4 78.3h.01M513.3 86.4h.01M519.1 90.1h.01M518.0 64.8h.01M522.3 70.6h.01M524.7 72.6h.01M508.7 77.8h.01M512.3 71.7h.01M512.6 69.0h.01M513.5 93.0h.01M517.9 85.7h.01M524.1 79.4h.01M516.4 87.6h.01M524.1 77.0h.01M517.0 64.9h.01M527.5 61.9h.01M510.3 84.8h.01M505.4 78.5h.01M512.9 78.3h.01M520.6 69.9h.01M521.9 80.5h.01M523.9 81.3h.01M515.9 91.9h.01M521.0 91.0h.01M511.1 73.4h.01M522.9 96.2h.01M506.2 87.8h.01M526.8 93.4h.01M522.9 77.8h.01M522.6 88.8h.01M518.7 64.7h.01M527.8 90.3h.01M524.7 72.5h.01M516.8 83.2h.01M523.7 73.2h.01M506.2 79.4h.01M517.3 80.0h.01M518.6 67.3h.01M520.4 80.7h.01M520.3 88.4h.01M505.5 80.3h.01M513.8 90.0h.01M521.9 98.2h.01M517.7 80.6h.01M528.5 92.2h.01M525.4 81.2h.01M528.2 68.9h.01M521.9 86.8h.01M505.1 68.3h.01M517.9 79.9h.01M512.9 98.2h.01M520.7 73.0h.01M505.0 69.0h.01M517.9 76.0h.01M515.2 83.5h.01M511.8 87.3h.01M517.6 74.0h.01M510.9 73.6h.01M506.1 85.0h.01M506.1 78.7h.01M527.4 88.9h.01M510.9 71.9h.01M512.4 92.5h.01M512.4 82.0h.01M510.3 78.9h.01M526.3 64.5h.01M523.4 76.4h.01M515.2 78.4h.01M524.4 89.9h.01M516.0 81.0h.01M512.6 70.1h.01M511.4 66.6h.01M520.7 87.6h.01M526.9 68.6h.01M522.2 95.5h.01M508.3 81.8h.01M506.0 74.6h.01M514.3 71.7h.01M506.7 92.2h.01M504.0 78.0h.01M504.5 80.9h.01M513.2 60.7h.01M503.5 80.7h.01M520.9 69.8h.01M512.9 58.2h.01M517.3 77.1h.01M527.5 78.1h.01M523.2 67.7h.01M523.3 98.2h.01M510.4 68.4h.01M512.5 70.9h.01M512.8 81.8h.01M512.4 82.1h.01M522.5 81.8h.01M520.9 76.7h.01M513.2 93.5h.01M519.6 71.6h.01M524.9 62.0h.01M516.2 69.5h.01M504.0 77.8h.01M511.6 79.9h.01M515.2 97.7h.01M521.6 78.4h.01M507.7 74.9h.01M507.9 74.1h.01M505.9 71.5h.01M507.8 85.9h.01M525.2 68.0h.01M521.1 92.0h.01M512.4 70.3h.01M524.8 72.9h.01M513.0 79.6h.01M521.0 63.9h.01M522.6 80.4h.01M519.2 79.0h.01M519.5 91.6h.01M524.3 85.9h.01M514.5 56.6h.01M504.0 82.6h.01M509.3 69.8h.01M508.9 70.0h.01M521.7 71.3h.01M511.5 97.8h.01M524.6 75.1h.01M525.9 79.2h.01M512.1 87.5h.01M509.2 96.1h.01M509.6 75.5h.01M528.6 80.4h.01M518.4 81.5h.01M523.4 79.9h.01M518.3 77.1h.01M518.5 68.5h.01M503.8 74.3h.01M507.4 71.6h.01M524.2 69.8h.01M519.5 74.0h.01M518.6 78.4h.01M507.2 72.8h.01M517.7 75.3h.01M521.2 87.4h.01M503.9 85.9h.01M505.6 70.0h.01M518.0 62.2h.01M516.4 98.2h.01M510.7 77.2h.01M519.7 95.4h.01M527.7 78.5h.01M523.4 95.5h.01M526.1 83.1h.01M507.0 78.4h.01M514.5 73.8h.01M517.1 77.5h.01M523.2 70.6h.01M524.8 81.8h.01M506.7 78.6h.01M511.0 84.0h.01M508.4 84.1h.01M503.8 68.9h.01M517.9 81.9h.01M516.0 79.4h.01M511.2 88.9h.01M509.2 94.3h.01M504.5 75.3h.01M512.2 59.5h.01M517.4 78.6h.01M521.4 78.5h.01M526.8 69.8h.01M515.3 82.8h.01M513.5 76.8h.01M528.1 85.0h.01M527.5 67.3h.01M524.3 81.5h.01M513.1 77.1h.01M504.0 76.9h.01M504.0 87.9h.01M514.2 73.3h.01M524.1 75.2h.01M516.4 85.9h.01M503.8 64.8h.01M524.3 85.2h.01M505.4 72.2h.01M507.7 57.6h.01M503.8 91.9h.01M504.2 94.0h.01M519.5 79.7h.01M508.3 69.4h.01M516.2 62.3h.01M526.9 81.6h.01M524.9 92.8h.01M516.6 64.7h.01M509.6 78.2h.01M503.9 93.1h.01M526.1 86.0h.01M511.6 76.9h.01M520.9 97.6h.01M526.4 66.6h.01M525.7 83.4h.01M519.4 88.3h.01M513.3 66.0h.01M520.8 74.0h.01M512.3 74.7h.01M523.7 98.2h.01M519.7 78.0h.01M506.2 77.6h.01M510.0 73.4h.01M517.3 98.2h.01M515.0 97.3h.01M521.9 70.5h.01M521.7 71.7h.01M524.9 84.2h.01M518.9 80.6h.01M527.0 82.2h.01M520.9 72.0h.01M527.3 61.9h.01M524.7 80.2h.01M514.4 69.9h.01M527.5 98.2h.01M523.2 80.6h.01M526.6 81.4h.01M522.0 82.9h.01M505.1 73.2h.01M528.5 80.9h.01M507.8 68.7h.01M508.9 79.1h.01M508.3 83.4h.01M517.8 79.3h.01M514.9 53.1h.01M523.0 84.7h.01M521.2 60.9h.01M528.6 66.8h.01M505.7 96.5h.01M510.3 54.3h.01M527.0 84.3h.01M520.1 46.5h.01M510.3 93.2h.01M524.3 47.1h.01M515.7 75.2h.01M506.4 47.4h.01M505.8 82.2h.01M524.2 95.0h.01M504.8 92.6h.01M515.5 87.5h.01M512.3 81.4h.01M521.6 62.0h.01M522.8 53.5h.01M511.0 79.7h.01M511.8 67.9h.01M504.7 69.7h.01M509.7 49.8h.01M511.9 51.9h.01M506.1 66.7h.01M505.7 61.6h.01M510.8 92.3h.01M514.0 61.6h.01M520.5 83.1h.01M525.9 78.0h.01M516.1 72.5h.01M521.2 71.6h.01M524.5 92.0h.01M512.4 60.5h.01M524.6 80.1h.01M512.5 85.4h.01M527.4 89.7h.01M522.9 96.0h.01M510.7 79.0h.01M514.8 87.1h.01M508.1 86.6h.01M507.1 59.0h.01M509.8 87.4h.01M525.5 55.2h.01M524.6 63.4h.01M525.0 47.2h.01M504.8 85.0h.01M524.4 91.1h.01M509.7 52.4h.01M511.2 61.6h.01M510.6 74.4h.01M513.7 50.3h.01M527.3 68.9h.01M518.2 62.5h.01M505.9 46.9h.01M511.4 78.3h.01M520.4 72.1h.01M509.1 87.1h.01M503.5 64.0h.01M521.4 64.6h.01M513.4 80.1h.01M517.6 92.7h.01M517.7 58.4h.01M518.2 62.2h.01M516.7 53.4h.01M504.3 86.9h.01M527.2 51.8h.01M521.1 86.9h.01M525.6 64.5h.01M509.0 47.8h.01M518.7 51.4h.01M516.9 68.7h.01M504.6 94.8h.01M515.5 59.9h.01M516.2 73.6h.01M526.0 55.8h.01M503.7 93.9h.01M520.7 65.4h.01M523.1 64.7h.01M526.7 85.6h.01M524.6 73.4h.01M503.7 55.6h.01M506.9 64.8h.01M508.8 87.6h.01M507.1 48.5h.01M510.6 75.8h.01M521.4 51.8h.01M515.1 63.8h.01M505.1 60.3h.01M515.7 88.3h.01M521.8 95.4h.01M511.8 85.1h.01M519.8 78.9h.01M505.1 65.2h.01M514.4 96.1h.01M514.7 91.4h.01M509.7 60.3h.01M517.3 71.7h.01M526.2 68.6h.01M518.9 50.3h.01M504.5 83.8h.01M506.5 89.0h.01M510.9 55.6h.01M507.4 56.0h.01M507.0 96.1h.01M510.5 90.0h.01M507.5 49.4h.01M508.3 88.7h.01M519.5 58.1h.01M504.1 95.6h.01M523.8 61.7h.01M524.6 80.7h.01M505.2 52.8h.01M517.1 59.5h.01M524.9 81.9h.01M521.7 78.4h.01M528.5 89.3h.01M522.7 87.5h.01M504.9 74.8h.01M520.9 53.6h.01M515.2 80.3h.01M517.2 86.0h.01M520.2 79.6h.01M526.9 57.3h.01M518.8 51.7h.01M518.3 52.9h.01M510.2 47.0h.01M525.4 52.5h.01M508.5 93.6h.01M520.2 50.8h.01M505.2 60.0h.01M517.8 84.4h.01M510.5 57.8h.01M517.9 62.0h.01M523.3 79.4h.01M506.2 49.0h.01M505.8 61.1h.01M509.6 85.3h.01M513.0 80.9h.01M505.6 87.7h.01M513.7 77.2h.01M522.8 82.2h.01M511.9 86.4h.01M510.7 87.6h.01M525.5 48.6h.01M504.6 87.4h.01M525.6 79.2h.01M510.8 55.4h.01M526.5 64.0h.01M513.0 83.8h.01M512.7 82.8h.01M522.0 71.1h.01M507.1 84.3h.01M524.5 87.2h.01M522.0 47.1h.01M522.8 77.7h.01M507.5 54.8h.01M519.4 66.6h.01M513.6 84.3h.01M504.1 94.4h.01M504.6 95.5h.01M515.0 48.3h.01M526.5 66.4h.01M522.3 77.9h.01M506.3 63.7h.01M520.5 83.7h.01M523.3 68.5h.01M504.1 60.0h.01M507.6 68.9h.01M513.4 59.6h.01M523.0 60.1h.01M508.4 64.6h.01M510.5 50.2h.01M504.5 83.7h.01M508.3 68.8h.01M506.5 69.2h.01M512.0 66.3h.01M524.2 95.2h.01M508.4 88.7h.01M516.3 46.8h.01M527.4 89.2h.01M504.9 93.4h.01M514.3 74.7h.01M526.4 64.3h.01M522.9 95.9h.01M523.1 63.6h.01M528.0 93.6h.01M515.5 90.5h.01M513.6 56.7h.01M509.2 71.6h.01M518.3 56.4h.01M512.2 78.0h.01M522.9 51.0h.01M519.1 88.5h.01M528.8 68.7h.01M521.5 49.2h.01M519.8 47.3h.01M519.3 46.9h.01M508.6 50.7h.01M515.3 90.5h.01M520.6 51.7h.01M515.4 82.6h.01M523.8 91.9h.01M519.9 82.9h.01M528.7 54.8h.01M524.1 74.0h.01M522.3 65.3h.01M524.2 76.1h.01M507.1 92.2h.01M513.7 58.8h.01M510.1 77.5h.01M522.5 46.2h.01M518.2 83.4h.01M522.0 54.3h.01M517.0 62.0h.01M527.5 86.8h.01M513.7 86.8h.01M511.2 65.6h.01M510.6 80.3h.01M520.6 80.1h.01M520.4 53.3h.01M512.9 56.3h.01M516.1 57.4h.01M511.5 71.5h.01M521.0 94.7h.01M517.1 87.0h.01M519.8 63.3h.01M524.6 56.0h.01M515.3 70.2h.01M510.0 70.5h.01M517.3 46.3h.01M509.9 86.0h.01M520.1 61.6h.01M511.0 92.1h.01M509.6 79.8h.01M524.7 65.7h.01M521.9 91.4h.01M526.7 54.2h.01M519.5 46.7h.01M528.4 83.9h.01M517.6 49.6h.01M527.2 85.8h.01M525.2 68.1h.01M508.4 59.5h.01M523.2 63.8h.01M512.5 96.2h.01M512.4 51.1h.01M517.8 65.7h.01M511.8 94.0h.01M504.5 56.5h.01M505.1 94.0h.01M508.5 84.0h.01M528.1 47.6h.01M515.2 78.3h.01M510.2 59.3h.01M527.5 58.5h.01M519.8 84.8h.01M519.4 81.0h.01M518.1 59.1h.01M512.2 85.3h.01M518.4 40.6h.01M512.4 45.8h.01M525.1 27.6h.01M505.6 34.7h.01M504.5 38.4h.01M505.2 40.9h.01M507.2 37.3h.01M521.6 13.3h.01M508.1 19.3h.01M508.1 34.7h.01M504.6 48.2h.01M528.8 43.7h.01M512.9 36.8h.01M523.7 45.0h.01M524.9 38.6h.01M508.3 32.5h.01M514.2 13.4h.01M522.0 37.0h.01M506.0 24.0h.01M520.5 18.7h.01M510.8 37.9h.01M521.1 19.6h.01M524.7 41.1h.01M524.3 37.5h.01M524.7 33.3h.01M513.6 16.0h.01M516.3 37.3h.01M521.7 43.4h.01M522.6 18.7h.01M526.6 42.6h.01M520.6 13.8h.01M522.5 45.8h.01M511.3 24.9h.01M527.9 34.7h.01M512.7 27.6h.01M505.7 37.5h.01M523.3 14.0h.01M504.0 37.1h.01M522.6 38.8h.01M516.3 27.9h.01M512.8 26.8h.01M517.6 26.3h.01M527.8 45.1h.01M524.3 40.5h.01M523.9 22.0h.01M513.1 48.7h.01M512.4 27.4h.01M518.7 18.0h.01M523.2 18.0h.01M515.8 24.3h.01M510.8 18.2h.01M506.7 47.0h.01M506.3 22.3h.01M517.3 25.0h.01M518.0 35.7h.01M525.6 22.0h.01M505.4 21.4h.01M519.7 15.5h.01M527.6 34.0h.01M506.7 18.7h.01M513.4 49.9h.01M525.2 45.3h.01M514.1 32.3h.01M505.5 44.4h.01M513.1 32.9h.01M509.0 97.8h.01M528.9 97.7h.01M518.5 97.3h.01M515.2 97.7h.01M519.1 97.8h.01M516.4 97.5h.01M505.7 97.7h.01M528.9 98.0h.01M520.6 97.8h.01M526.7 97.4h.01M505.0 97.4h.01M525.6 97.9h.01M523.5 97.8h.01M509.8 97.4h.01M517.2 97.6h.01M512.5 97.7h.01M515.4 97.9h.01M528.2 97.9h.01M509.7 98.2h.01M521.7 97.5h.01M525.5 97.3h.01M510.8 97.7h.01M519.1 97.9h.01M528.7 97.4h.01M522.8 97.4h.01M522.7 97.8h.01M504.4 97.7h.01M516.4 98.0h.01M511.4 97.6h.01M510.7 98.2h.01M511.6 97.9h.01M510.8 97.9h.01M513.3 97.4h.01M517.2 97.8h.01M510.8 98.2h.01M505.9 97.6h.01M526.0 98.1h.01M526.3 97.9h.01M520.1 98.0h.01M519.3 97.8h.01M528.2 98.0h.01M509.1 97.3h.01M525.7 97.7h.01M507.7 97.6h.01M505.1 97.7h.01" stroke="#000" stroke-width="1.3" stroke-linecap="round" fill="none"/>
<circle cx="322.2" cy="28.5" r="1.8" fill="#56a8e0"/>
<circle cx="322.9" cy="26" r="1.8" fill="#ffd800"/>
<circle cx="325.4" cy="29.8" r="1.8" fill="#e0108c"/>
<circle cx="363.3" cy="33.6" r="1.8" fill="#56a8e0"/>
<circle cx="363.5" cy="14.5" r="1.8" fill="#ffd800"/>
<circle cx="361" cy="22.9" r="1.8" fill="#20c840"/>
<circle cx="358.2" cy="27.5" r="1.8" fill="#e0108c"/>
<circle cx="401.3" cy="92.9" r="1.8" fill="#56a8e0"/>
<circle cx="397.1" cy="16.5" r="1.8" fill="#ffd800"/>
<circle cx="399.2" cy="19.8" r="1.8" fill="#20c840"/>
<circle cx="404.3" cy="25.4" r="1.8" fill="#e0108c"/>
<circle cx="440" cy="53.4" r="1.8" fill="#56a8e0"/>
<circle cx="438.5" cy="22.9" r="1.8" fill="#ffd800"/>
<circle cx="437.5" cy="49.1" r="1.8" fill="#20c840"/>
<circle cx="442.3" cy="50.4" r="1.8" fill="#e0108c"/>
<circle cx="481.2" cy="27.2" r="1.8" fill="#56a8e0"/>
<circle cx="475.6" cy="26.2" r="1.8" fill="#20c840"/>
<circle cx="476.9" cy="24.2" r="1.8" fill="#ffd800"/>
<circle cx="479.5" cy="24.7" r="1.8" fill="#e0108c"/>
<circle cx="512.5" cy="51.7" r="1.8" fill="#56a8e0"/>
<circle cx="515.1" cy="26.7" r="1.8" fill="#ffd800"/>
<circle cx="518.9" cy="48.3" r="1.8" fill="#20c840"/>
<circle cx="516.4" cy="48.3" r="1.8" fill="#e0108c"/>
<line x1="323.5" y1="102.2" x2="323.5" y2="103.2" stroke="#333" stroke-width="0.5"/>
<text class="ax" x="324.3" y="110.5" text-anchor="middle">KMT2A</text>
<line x1="362.0" y1="102.2" x2="362.0" y2="103.2" stroke="#333" stroke-width="0.5"/>
<text class="ax" x="362.8" y="110.5" text-anchor="middle">AFF1</text>
<line x1="400.4" y1="102.2" x2="400.4" y2="103.2" stroke="#333" stroke-width="0.5"/>
<text class="ax" x="401.2" y="110.5" text-anchor="middle">IKZF1</text>
<line x1="438.8" y1="102.2" x2="438.8" y2="103.2" stroke="#333" stroke-width="0.5"/>
<text class="ax" x="440.4" y="110.5" text-anchor="middle">TUT1</text>
<line x1="477.2" y1="102.2" x2="477.2" y2="103.2" stroke="#333" stroke-width="0.5"/>
<text class="ax" x="478.0" y="110.5" text-anchor="middle">KDM2A</text>
<line x1="515.6" y1="102.2" x2="515.6" y2="103.2" stroke="#333" stroke-width="0.5"/>
<text class="ax" x="517.2" y="110.5" text-anchor="middle">MEIS1</text>
<circle cx="332.4" cy="115.8" r="1.55" fill="#56a8e0"/>
<text class="lb" x="335.6" y="117.6">Germline</text>
<circle cx="373.1" cy="115.8" r="1.55" fill="#ffd800"/>
<text class="lb" x="376.4" y="117.6">Diagnosis</text>
<circle cx="416.4" cy="115.8" r="1.55" fill="#20c840"/>
<text class="lb" x="419.6" y="117.6" textLength="40.9" lengthAdjust="spacingAndGlyphs">REF post-induction</text>
<circle cx="479.1" cy="115.8" r="1.55" fill="#e0108c"/>
<text class="lb" x="483.3" y="117.6">On blinatumomab</text>
<rect class="pn" x="3.5" y="128.4" width="267.6" height="115.0" rx="0.7"/>
<text class="pl" x="5.2" y="139.2">C</text>
<rect x="56.8" y="134.1" width="2.9" height="4.0" fill="#8660f0"/>
<text class="lg" x="61.0" y="137.2" textLength="44.1" lengthAdjust="spacingAndGlyphs">ZF1-4 (Zinc finger domains 1-4)</text>
<rect x="56.8" y="138.8" width="2.9" height="4.0" fill="#70d0c0"/>
<text class="lg" x="61.0" y="141.9" textLength="23.0" lengthAdjust="spacingAndGlyphs">Zinc binding site</text>
<rect x="108.7" y="134.1" width="2.9" height="4.0" fill="#0a0af0"/>
<text class="lg" x="113.3" y="137.2" textLength="91.6" lengthAdjust="spacingAndGlyphs">Region  required for DNA binding and heterochromatin localization</text>
<rect x="108.7" y="138.8" width="2.9" height="4.0" fill="#c01060"/>
<text class="lg" x="113.3" y="141.9" textLength="44.5" lengthAdjust="spacingAndGlyphs">ZF5-6 (Zinc finger domains 5-6)</text>
<rect x="108.7" y="143.4" width="2.9" height="4.0" fill="#f5d000"/>
<text class="lg" x="113.3" y="146.6" textLength="99.0" lengthAdjust="spacingAndGlyphs">PP1CC. Required for binding the serine/threonine protein phosphatase</text>
<rect x="57.1" y="151.5" width="126.3" height="13.9" fill="#fff"/>
<rect x="85.7" y="151.5" width="5.2" height="13.9" fill="#8660f0"/>
<rect x="92.3" y="151.5" width="4.9" height="13.9" fill="#8660f0"/>
<rect x="94.3" y="151.5" width="2.9" height="13.9" fill="#0a0af0"/>
<rect x="99.0" y="151.5" width="5.3" height="13.9" fill="#8660f0"/>
<rect x="101.0" y="151.5" width="3.3" height="13.9" fill="#0a0af0"/>
<rect x="105.9" y="151.5" width="5.3" height="13.9" fill="#8660f0"/>
<rect x="169.1" y="151.5" width="12.6" height="13.9" fill="#c01060"/>
<rect x="170.3" y="151.5" width="0.6" height="13.9" fill="#f5b000"/>
<rect x="174.2" y="151.5" width="1.8" height="13.9" fill="#8030c0"/>
<path class="d" d="M60.5 152.4V164.8M70.1 152.4V164.8M91.5 152.4V164.8M104.2 152.4V164.8M114.7 152.4V164.8M125.8 152.4V164.8"/>
<rect x="57.1" y="151.5" width="126.3" height="13.9" fill="none" stroke="#777" stroke-width="0.6"/>
<text class="gn" x="186.0" y="161.4">IKZF1</text>
<line class="bl" x1="57.1" y1="168.85" x2="70.0" y2="168.85"/>
<text class="ex" x="70.6" y="177.6" textLength="42.5" lengthAdjust="spacingAndGlyphs">exon 3, 54 AA</text>
<path class="cn" d="M69.8 169.8L53.6 199.5"/>
<text class="ex" x="9.9" y="198.2" textLength="43.0" lengthAdjust="spacingAndGlyphs">exon 3, 92 AA</text>
<line class="bl" x1="53.3" y1="201.05" x2="242.0" y2="201.05" style="stroke-width:1.85"/>
<rect x="31.1" y="204.7" width="211.5" height="13.9" fill="#fff"/>
<rect x="35.0" y="204.7" width="5.3" height="13.9" fill="#e83838"/>
<rect x="44.6" y="204.7" width="16.9" height="13.9" fill="#f08040"/>
<rect x="79.5" y="204.7" width="7.3" height="13.9" fill="#e8e040"/>
<rect x="86.8" y="204.7" width="19.0" height="13.9" fill="#90d840"/>
<rect x="105.8" y="204.7" width="18.3" height="13.9" fill="#e8e040"/>
<rect x="149.8" y="204.7" width="13.3" height="13.9" fill="#40b060"/>
<rect x="175.6" y="204.7" width="61.4" height="13.9" fill="#40c8e0"/>
<rect x="189.1" y="204.7" width="1.7" height="13.9" fill="#4080f0"/>
<path class="d" d="M36.8 205.6V218.0M38.6 205.6V218.0M52.9 205.6V218.0M78.6 205.6V218.0M86.5 205.6V218.0M124.9 205.6V218.0M132.9 205.6V218.0M141.9 205.6V218.0M149.5 205.6V218.0"/>
<rect x="31.1" y="204.7" width="211.5" height="13.9" fill="none" stroke="#777" stroke-width="0.6"/>
<text class="gn" x="245.5" y="214.7">TUT1</text>
<rect x="69.2" y="222.2" width="2.9" height="4.0" fill="#e83838"/>
<text class="lg" x="73.2" y="225.3" textLength="38.5" lengthAdjust="spacingAndGlyphs">CCHC type zinc finger motif</text>
<rect x="69.2" y="226.7" width="2.9" height="4.0" fill="#f08040"/>
<text class="lg" x="73.2" y="229.8" textLength="40.1" lengthAdjust="spacingAndGlyphs">RRM (RNA recognition motif)</text>
<rect x="69.2" y="231.1" width="2.9" height="4.0" fill="#f0e020"/>
<text class="lg" x="73.2" y="234.2" textLength="42.7" lengthAdjust="spacingAndGlyphs">Nucleotidyl transferase domain</text>
<rect x="69.2" y="235.6" width="2.9" height="4.0" fill="#90d840"/>
<text class="lg" x="73.2" y="238.7" textLength="33.8" lengthAdjust="spacingAndGlyphs">PRR (proline-rich region)</text>
<rect x="120.9" y="222.2" width="2.9" height="4.0" fill="#40b060"/>
<text class="lg" x="124.9" y="225.3" textLength="62.0" lengthAdjust="spacingAndGlyphs">Poly(A) polymerase (PAP)-associated domain</text>
<rect x="120.9" y="226.7" width="2.9" height="4.0" fill="#40c8e0"/>
<text class="lg" x="124.9" y="229.8" textLength="87.5" lengthAdjust="spacingAndGlyphs">KA1 region (Kinase-associated 1 domain), RNA binding domain</text>
<rect x="120.9" y="231.1" width="2.9" height="4.0" fill="#4080f0"/>
<text class="lg" x="124.9" y="234.2" textLength="42.9" lengthAdjust="spacingAndGlyphs">Nuclear Localisation Sequence</text>
<rect class="pn" x="279.3" y="128.4" width="267.40000000000003" height="115.0" rx="0.7"/>
<text class="pl" x="281.6" y="139.2">D</text>
<rect x="331.6" y="133.9" width="2.9" height="4.0" fill="#f0c820"/>
<text class="lg" x="335.8" y="137.1" textLength="56.9" lengthAdjust="spacingAndGlyphs">JmjC domain, Jumonji C catalytic domain</text>
<rect x="331.6" y="138.4" width="2.9" height="4.0" fill="#ff8c10"/>
<text class="lg" x="335.8" y="141.6" textLength="24.0" lengthAdjust="spacingAndGlyphs">Cupin-like domain</text>
<rect x="331.6" y="142.9" width="2.9" height="4.0" fill="#7060b0"/>
<text class="lg" x="335.8" y="146.1" textLength="35.0" lengthAdjust="spacingAndGlyphs">CXXC zinc finger domain</text>
<rect x="331.6" y="147.4" width="2.9" height="4.0" fill="#305090"/>
<text class="lg" x="335.8" y="150.6" textLength="14.9" lengthAdjust="spacingAndGlyphs">PHD finger</text>
<rect x="406.6" y="133.9" width="2.9" height="4.0" fill="#30b050"/>
<text class="lg" x="411.0" y="137.1" textLength="44.8" lengthAdjust="spacingAndGlyphs">Putative histone H3 binding site</text>
<rect x="406.6" y="138.4" width="2.9" height="4.0" fill="#6030f0"/>
<text class="lg" x="411.0" y="141.6" textLength="19.6" lengthAdjust="spacingAndGlyphs">Zn binding site</text>
<rect x="406.6" y="142.9" width="2.9" height="4.0" fill="#f8f080"/>
<text class="lg" x="411.0" y="146.1" textLength="18.0" lengthAdjust="spacingAndGlyphs">F-box domain</text>
<rect x="406.6" y="147.4" width="2.9" height="4.0" fill="#b0f070"/>
<text class="lg" x="411.0" y="150.6" textLength="26.2" lengthAdjust="spacingAndGlyphs">Leucine-rich repeat</text>
<rect x="289.6" y="153.6" width="213.0" height="13.6" fill="#fff"/>
<rect x="316.5" y="153.6" width="8.5" height="13.6" fill="#f0c820"/>
<rect x="325.0" y="153.6" width="18.6" height="13.6" fill="#ff8c10"/>
<rect x="343.6" y="153.6" width="3.8" height="13.6" fill="#f0c820"/>
<rect x="392.7" y="153.6" width="8.5" height="13.6" fill="#7068b0"/>
<rect x="402.9" y="153.6" width="10.6" height="13.6" fill="#305090"/>
<rect x="406.2" y="153.6" width="1.6" height="13.6" fill="#30b050"/>
<rect x="452.1" y="153.6" width="5.8" height="13.6" fill="#f8f080"/>
<rect x="457.9" y="153.6" width="40.2" height="13.6" fill="#b0f070"/>
<path class="d" d="M292.1 154.5V166.6M300.4 154.5V166.6M305.4 154.5V166.6M307.9 154.5V166.6M319.5 154.5V166.6M324.5 154.5V166.6M331.5 154.5V166.6M340.8 154.5V166.6M343.8 154.5V166.6M347.9 154.5V166.6M355.2 154.5V166.6M379.6 154.5V166.6M384.6 154.5V166.6M401.8 154.5V166.6M405.0 154.5V166.6M409.5 154.5V166.6M411.5 154.5V166.6M414.8 154.5V166.6M458.3 154.5V166.6M468.2 154.5V166.6M477.9 154.5V166.6M491.2 154.5V166.6"/>
<rect x="289.6" y="153.6" width="213.0" height="13.6" fill="none" stroke="#777" stroke-width="0.6"/>
<text class="gn" x="504.9" y="163.5">KDM2A</text>
<line class="bl" x1="289.6" y1="171.1" x2="379.6" y2="171.1"/>
<text class="ex" x="328.7" y="179.7" textLength="50.2" lengthAdjust="spacingAndGlyphs">exon 12, 493 AA</text>
<path class="cn" d="M379.7 172L381.2 186L382.8 203.5"/>
<text class="ex" x="383" y="201.1" textLength="43.5" lengthAdjust="spacingAndGlyphs">exon 4, 54 AA</text>
<line class="bl" x1="382.8" y1="204.15" x2="467.9" y2="204.15"/>
<rect x="373.3" y="207.5" width="94.7" height="13.8" fill="#fff"/>
<rect x="394.7" y="207.5" width="3.4" height="13.8" fill="#8660f0"/>
<rect x="399.3" y="207.5" width="3.9" height="13.8" fill="#8660f0"/>
<rect x="400.2" y="207.5" width="3.0" height="13.8" fill="#0a0af0"/>
<rect x="405.1" y="207.5" width="3.8" height="13.8" fill="#8660f0"/>
<rect x="405.7" y="207.5" width="3.2" height="13.8" fill="#0a0af0"/>
<rect x="410.1" y="207.5" width="3.9" height="13.8" fill="#8660f0"/>
<rect x="457.6" y="207.5" width="9.5" height="13.8" fill="#c01060"/>
<rect x="459.0" y="207.5" width="0.6" height="13.8" fill="#f5a040"/>
<rect x="461.2" y="207.5" width="1.4" height="13.8" fill="#fbe8ee"/>
<path class="d" d="M375.5 208.4V220.7M382.9 208.4V220.7M398.6 208.4V220.7M409.4 208.4V220.7M416.8 208.4V220.7M425.1 208.4V220.7"/>
<rect x="373.3" y="207.5" width="94.7" height="13.8" fill="none" stroke="#777" stroke-width="0.6"/>
<text class="gn" x="471.8" y="217.4">IKZF1</text>
<rect x="351.2" y="225.6" width="2.9" height="4.0" fill="#8660f0"/>
<text class="lg" x="355.1" y="228.8" textLength="44.7" lengthAdjust="spacingAndGlyphs">ZF1-4 (Zinc finger domains 1-4)</text>
<rect x="351.2" y="230.1" width="2.9" height="4.0" fill="#70d0c0"/>
<text class="lg" x="355.1" y="233.2" textLength="23.4" lengthAdjust="spacingAndGlyphs">Zinc binding site</text>
<rect x="403.7" y="225.6" width="2.9" height="4.0" fill="#0a0af0"/>
<text class="lg" x="407.7" y="228.8" textLength="92.7" lengthAdjust="spacingAndGlyphs">Region  required for DNA binding and heterochromatin localization</text>
<rect x="403.7" y="230.1" width="2.9" height="4.0" fill="#c01060"/>
<text class="lg" x="407.7" y="233.2" textLength="44.1" lengthAdjust="spacingAndGlyphs">ZF5-6 (Zinc finger domains 5-6)</text>
<rect x="403.7" y="234.6" width="2.9" height="4.0" fill="#f5d000"/>
<text class="lg" x="407.7" y="237.8" textLength="99.2" lengthAdjust="spacingAndGlyphs">PP1CC. Required for binding the serine/threonine protein phosphatase</text>
</svg></body></html>
